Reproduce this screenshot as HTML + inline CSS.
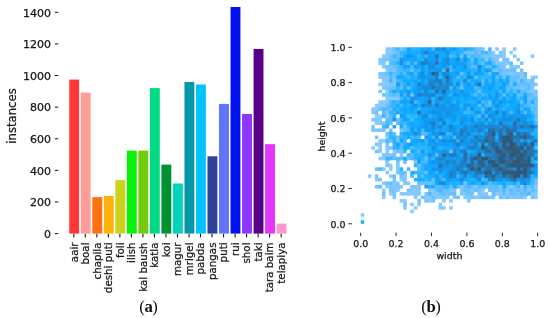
<!DOCTYPE html>
<html><head><meta charset="utf-8"><title>Figure</title>
<style>
html,body{margin:0;padding:0;background:#fff;}
svg{display:block}
text{font-family:"DejaVu Sans","Liberation Sans",sans-serif;fill:#161616;stroke:#161616;stroke-width:0.25px}
.s11{font-size:11.0px}
.s10{font-size:10.25px}
.s9{font-size:9.45px}
.cap{font-family:"Liberation Serif","DejaVu Serif",serif;font-size:16.7px;letter-spacing:-0.45px;fill:#111;stroke:none}
</style></head><body>
<svg width="550" height="318" viewBox="0 0 550 318">
<rect width="550" height="318" fill="#fff"/>
<rect x="69.25" y="79.60" width="9.90" height="154.00" fill="#FF3537"/>
<rect x="80.77" y="92.60" width="9.90" height="141.00" fill="#FF9E98"/>
<rect x="92.29" y="197.10" width="9.90" height="36.50" fill="#FF7012"/>
<rect x="103.81" y="196.00" width="9.90" height="37.60" fill="#FFB109"/>
<rect x="115.33" y="180.10" width="9.90" height="53.50" fill="#CAD31A"/>
<rect x="126.85" y="150.60" width="9.90" height="83.00" fill="#08F208"/>
<rect x="138.37" y="150.60" width="9.90" height="83.00" fill="#74CB0C"/>
<rect x="149.89" y="88.10" width="9.90" height="145.50" fill="#00DA84"/>
<rect x="161.41" y="164.60" width="9.90" height="69.00" fill="#009230"/>
<rect x="172.93" y="183.50" width="9.90" height="50.10" fill="#00D3BC"/>
<rect x="184.45" y="82.00" width="9.90" height="151.60" fill="#0698A8"/>
<rect x="195.97" y="84.50" width="9.90" height="149.10" fill="#00C4FF"/>
<rect x="207.49" y="156.30" width="9.90" height="77.30" fill="#2E4497"/>
<rect x="219.01" y="103.90" width="9.90" height="129.70" fill="#5E74FF"/>
<rect x="230.53" y="7.00" width="9.90" height="226.60" fill="#0012EE"/>
<rect x="242.05" y="114.00" width="9.90" height="119.60" fill="#8E36FF"/>
<rect x="253.57" y="49.00" width="9.90" height="184.60" fill="#580088"/>
<rect x="265.09" y="144.20" width="9.90" height="89.40" fill="#E236FA"/>
<rect x="276.61" y="223.60" width="9.90" height="10.00" fill="#FF96CE"/>
<rect x="73.25" y="233.90" width="1.1" height="3.5" fill="#161616"/>
<text class="s10" text-anchor="end" transform="translate(77.50,242.5) rotate(-90)">aair</text>
<rect x="84.77" y="233.90" width="1.1" height="3.5" fill="#161616"/>
<text class="s10" text-anchor="end" transform="translate(89.02,242.5) rotate(-90)">boal</text>
<rect x="96.29" y="233.90" width="1.1" height="3.5" fill="#161616"/>
<text class="s10" text-anchor="end" transform="translate(100.54,242.5) rotate(-90)">chapila</text>
<rect x="107.81" y="233.90" width="1.1" height="3.5" fill="#161616"/>
<text class="s10" text-anchor="end" transform="translate(112.06,242.5) rotate(-90)">deshi puti</text>
<rect x="119.33" y="233.90" width="1.1" height="3.5" fill="#161616"/>
<text class="s10" text-anchor="end" transform="translate(123.58,242.5) rotate(-90)">foli</text>
<rect x="130.85" y="233.90" width="1.1" height="3.5" fill="#161616"/>
<text class="s10" text-anchor="end" transform="translate(135.10,242.5) rotate(-90)">ilish</text>
<rect x="142.37" y="233.90" width="1.1" height="3.5" fill="#161616"/>
<text class="s10" text-anchor="end" transform="translate(146.62,242.5) rotate(-90)">kal baush</text>
<rect x="153.89" y="233.90" width="1.1" height="3.5" fill="#161616"/>
<text class="s10" text-anchor="end" transform="translate(158.14,242.5) rotate(-90)">katla</text>
<rect x="165.41" y="233.90" width="1.1" height="3.5" fill="#161616"/>
<text class="s10" text-anchor="end" transform="translate(169.66,242.5) rotate(-90)">koi</text>
<rect x="176.93" y="233.90" width="1.1" height="3.5" fill="#161616"/>
<text class="s10" text-anchor="end" transform="translate(181.18,242.5) rotate(-90)">magur</text>
<rect x="188.45" y="233.90" width="1.1" height="3.5" fill="#161616"/>
<text class="s10" text-anchor="end" transform="translate(192.70,242.5) rotate(-90)">mrigel</text>
<rect x="199.97" y="233.90" width="1.1" height="3.5" fill="#161616"/>
<text class="s10" text-anchor="end" transform="translate(204.22,242.5) rotate(-90)">pabda</text>
<rect x="211.49" y="233.90" width="1.1" height="3.5" fill="#161616"/>
<text class="s10" text-anchor="end" transform="translate(215.74,242.5) rotate(-90)">pangas</text>
<rect x="223.01" y="233.90" width="1.1" height="3.5" fill="#161616"/>
<text class="s10" text-anchor="end" transform="translate(227.26,242.5) rotate(-90)">puti</text>
<rect x="234.53" y="233.90" width="1.1" height="3.5" fill="#161616"/>
<text class="s10" text-anchor="end" transform="translate(238.78,242.5) rotate(-90)">rui</text>
<rect x="246.05" y="233.90" width="1.1" height="3.5" fill="#161616"/>
<text class="s10" text-anchor="end" transform="translate(250.30,242.5) rotate(-90)">shol</text>
<rect x="257.57" y="233.90" width="1.1" height="3.5" fill="#161616"/>
<text class="s10" text-anchor="end" transform="translate(261.82,242.5) rotate(-90)">taki</text>
<rect x="269.09" y="233.90" width="1.1" height="3.5" fill="#161616"/>
<text class="s10" text-anchor="end" transform="translate(273.34,242.5) rotate(-90)">tara baim</text>
<rect x="280.61" y="233.90" width="1.1" height="3.5" fill="#161616"/>
<text class="s10" text-anchor="end" transform="translate(284.86,242.5) rotate(-90)">telapiya</text>
<rect x="54.8" y="233.10" width="3.5" height="1" fill="#161616"/>
<text class="s11" text-anchor="end" x="50.9" y="237.90">0</text>
<rect x="54.8" y="201.49" width="3.5" height="1" fill="#161616"/>
<text class="s11" text-anchor="end" x="50.9" y="206.29">200</text>
<rect x="54.8" y="169.87" width="3.5" height="1" fill="#161616"/>
<text class="s11" text-anchor="end" x="50.9" y="174.67">400</text>
<rect x="54.8" y="138.26" width="3.5" height="1" fill="#161616"/>
<text class="s11" text-anchor="end" x="50.9" y="143.06">600</text>
<rect x="54.8" y="106.64" width="3.5" height="1" fill="#161616"/>
<text class="s11" text-anchor="end" x="50.9" y="111.44">800</text>
<rect x="54.8" y="75.03" width="3.5" height="1" fill="#161616"/>
<text class="s11" text-anchor="end" x="50.9" y="79.83">1000</text>
<rect x="54.8" y="43.41" width="3.5" height="1" fill="#161616"/>
<text class="s11" text-anchor="end" x="50.9" y="48.21">1200</text>
<rect x="54.8" y="11.80" width="3.5" height="1" fill="#161616"/>
<text class="s11" text-anchor="end" x="50.9" y="16.60">1400</text>
<text class="s11" style="font-size:11.65px" text-anchor="middle" transform="translate(15.7,116.0) rotate(-90)">instances</text>
<text class="cap" text-anchor="middle" x="148.4" y="311.6">(<tspan font-weight="bold">a</tspan>)</text>
<rect x="385.48" y="47.30" width="4.34" height="4.33" fill="#87CAFE"/>
<rect x="389.02" y="47.30" width="4.34" height="4.33" fill="#87CAFE"/>
<rect x="392.56" y="47.30" width="4.34" height="4.33" fill="#64BFFF"/>
<rect x="396.10" y="47.30" width="4.34" height="4.33" fill="#46B8FF"/>
<rect x="399.64" y="47.30" width="4.34" height="4.33" fill="#77C4FF"/>
<rect x="403.18" y="47.30" width="4.34" height="4.33" fill="#56BBFF"/>
<rect x="406.72" y="47.30" width="4.34" height="4.33" fill="#0F9FFB"/>
<rect x="410.26" y="47.30" width="4.34" height="4.33" fill="#29B3FF"/>
<rect x="413.80" y="47.30" width="4.34" height="4.33" fill="#29B3FF"/>
<rect x="417.34" y="47.30" width="4.34" height="4.33" fill="#15B1FF"/>
<rect x="420.88" y="47.30" width="4.34" height="4.33" fill="#0EA4FF"/>
<rect x="424.42" y="47.30" width="4.34" height="4.33" fill="#11ACFF"/>
<rect x="427.96" y="47.30" width="4.34" height="4.33" fill="#0EA4FF"/>
<rect x="431.50" y="47.30" width="4.34" height="4.33" fill="#46B8FF"/>
<rect x="435.04" y="47.30" width="4.34" height="4.33" fill="#1592E4"/>
<rect x="438.58" y="47.30" width="4.34" height="4.33" fill="#1298ED"/>
<rect x="442.12" y="47.30" width="4.34" height="4.33" fill="#1E85CC"/>
<rect x="445.66" y="47.30" width="4.34" height="4.33" fill="#11ACFF"/>
<rect x="449.20" y="47.30" width="4.34" height="4.33" fill="#0EA4FF"/>
<rect x="452.74" y="47.30" width="4.34" height="4.33" fill="#109AF2"/>
<rect x="456.28" y="47.30" width="4.34" height="4.33" fill="#15B1FF"/>
<rect x="459.82" y="47.30" width="4.34" height="4.33" fill="#33B5FF"/>
<rect x="463.36" y="47.30" width="4.34" height="4.33" fill="#11A8FF"/>
<rect x="466.90" y="47.30" width="4.34" height="4.33" fill="#29B3FF"/>
<rect x="470.44" y="47.30" width="4.34" height="4.33" fill="#29B3FF"/>
<rect x="473.98" y="47.30" width="4.34" height="4.33" fill="#64BFFF"/>
<rect x="477.52" y="47.30" width="4.34" height="4.33" fill="#6BC1FF"/>
<rect x="481.06" y="47.30" width="3.54" height="4.33" fill="#6BC1FF"/>
<rect x="488.14" y="47.30" width="3.54" height="4.33" fill="#4EB9FF"/>
<rect x="495.22" y="47.30" width="3.54" height="3.53" fill="#87CAFE"/>
<rect x="502.30" y="47.30" width="3.54" height="4.33" fill="#87CAFE"/>
<rect x="512.92" y="47.30" width="3.54" height="3.53" fill="#87CAFE"/>
<rect x="385.48" y="50.83" width="4.34" height="4.33" fill="#87CAFE"/>
<rect x="389.02" y="50.83" width="4.34" height="4.33" fill="#87CAFE"/>
<rect x="392.56" y="50.83" width="4.34" height="4.33" fill="#7CC6FF"/>
<rect x="396.10" y="50.83" width="4.34" height="4.33" fill="#6BC1FF"/>
<rect x="399.64" y="50.83" width="4.34" height="4.33" fill="#33B5FF"/>
<rect x="403.18" y="50.83" width="4.34" height="4.33" fill="#29B3FF"/>
<rect x="406.72" y="50.83" width="4.34" height="4.33" fill="#11ACFF"/>
<rect x="410.26" y="50.83" width="4.34" height="4.33" fill="#15B1FF"/>
<rect x="413.80" y="50.83" width="4.34" height="4.33" fill="#11ACFF"/>
<rect x="417.34" y="50.83" width="4.34" height="4.33" fill="#15B1FF"/>
<rect x="420.88" y="50.83" width="4.34" height="4.33" fill="#1298ED"/>
<rect x="424.42" y="50.83" width="4.34" height="4.33" fill="#217FC1"/>
<rect x="427.96" y="50.83" width="4.34" height="4.33" fill="#109AF2"/>
<rect x="431.50" y="50.83" width="4.34" height="4.33" fill="#0F9FFB"/>
<rect x="435.04" y="50.83" width="4.34" height="4.33" fill="#11A8FF"/>
<rect x="438.58" y="50.83" width="4.34" height="4.33" fill="#11A8FF"/>
<rect x="442.12" y="50.83" width="4.34" height="4.33" fill="#11A8FF"/>
<rect x="445.66" y="50.83" width="4.34" height="4.33" fill="#1592E4"/>
<rect x="449.20" y="50.83" width="4.34" height="4.33" fill="#15B1FF"/>
<rect x="452.74" y="50.83" width="4.34" height="4.33" fill="#29B3FF"/>
<rect x="456.28" y="50.83" width="4.34" height="4.33" fill="#15B1FF"/>
<rect x="459.82" y="50.83" width="4.34" height="4.33" fill="#29B3FF"/>
<rect x="463.36" y="50.83" width="4.34" height="4.33" fill="#6BC1FF"/>
<rect x="466.90" y="50.83" width="4.34" height="4.33" fill="#6BC1FF"/>
<rect x="470.44" y="50.83" width="4.34" height="4.33" fill="#77C4FF"/>
<rect x="473.98" y="50.83" width="4.34" height="4.33" fill="#56BBFF"/>
<rect x="477.52" y="50.83" width="4.34" height="4.33" fill="#77C4FF"/>
<rect x="481.06" y="50.83" width="4.34" height="4.33" fill="#46B8FF"/>
<rect x="484.60" y="50.83" width="4.34" height="4.33" fill="#46B8FF"/>
<rect x="488.14" y="50.83" width="4.34" height="4.33" fill="#71C3FF"/>
<rect x="491.68" y="50.83" width="3.54" height="4.33" fill="#87CAFE"/>
<rect x="498.76" y="50.83" width="4.34" height="4.33" fill="#7CC6FF"/>
<rect x="502.30" y="50.83" width="3.54" height="4.33" fill="#87CAFE"/>
<rect x="509.38" y="50.83" width="3.54" height="3.53" fill="#87CAFE"/>
<rect x="381.94" y="54.36" width="4.34" height="4.33" fill="#87CAFE"/>
<rect x="385.48" y="54.36" width="4.34" height="4.33" fill="#87CAFE"/>
<rect x="389.02" y="54.36" width="4.34" height="4.33" fill="#71C3FF"/>
<rect x="392.56" y="54.36" width="4.34" height="4.33" fill="#33B5FF"/>
<rect x="396.10" y="54.36" width="4.34" height="4.33" fill="#64BFFF"/>
<rect x="399.64" y="54.36" width="4.34" height="4.33" fill="#46B8FF"/>
<rect x="403.18" y="54.36" width="4.34" height="4.33" fill="#11A8FF"/>
<rect x="406.72" y="54.36" width="4.34" height="4.33" fill="#1592E4"/>
<rect x="410.26" y="54.36" width="4.34" height="4.33" fill="#1298ED"/>
<rect x="413.80" y="54.36" width="4.34" height="4.33" fill="#11ACFF"/>
<rect x="417.34" y="54.36" width="4.34" height="4.33" fill="#33B5FF"/>
<rect x="420.88" y="54.36" width="4.34" height="4.33" fill="#11A8FF"/>
<rect x="424.42" y="54.36" width="4.34" height="4.33" fill="#33B5FF"/>
<rect x="427.96" y="54.36" width="4.34" height="4.33" fill="#0F9FFB"/>
<rect x="431.50" y="54.36" width="4.34" height="4.33" fill="#0F9FFB"/>
<rect x="435.04" y="54.36" width="4.34" height="4.33" fill="#2677B3"/>
<rect x="438.58" y="54.36" width="4.34" height="4.33" fill="#11ACFF"/>
<rect x="442.12" y="54.36" width="4.34" height="4.33" fill="#11ACFF"/>
<rect x="445.66" y="54.36" width="4.34" height="4.33" fill="#109AF2"/>
<rect x="449.20" y="54.36" width="4.34" height="4.33" fill="#56BBFF"/>
<rect x="452.74" y="54.36" width="4.34" height="4.33" fill="#33B5FF"/>
<rect x="456.28" y="54.36" width="4.34" height="4.33" fill="#11ACFF"/>
<rect x="459.82" y="54.36" width="4.34" height="4.33" fill="#6BC1FF"/>
<rect x="463.36" y="54.36" width="4.34" height="4.33" fill="#0EA4FF"/>
<rect x="466.90" y="54.36" width="4.34" height="4.33" fill="#64BFFF"/>
<rect x="470.44" y="54.36" width="4.34" height="4.33" fill="#46B8FF"/>
<rect x="473.98" y="54.36" width="4.34" height="4.33" fill="#56BBFF"/>
<rect x="477.52" y="54.36" width="4.34" height="4.33" fill="#56BBFF"/>
<rect x="481.06" y="54.36" width="4.34" height="4.33" fill="#77C4FF"/>
<rect x="484.60" y="54.36" width="4.34" height="4.33" fill="#77C4FF"/>
<rect x="488.14" y="54.36" width="4.34" height="4.33" fill="#77C4FF"/>
<rect x="491.68" y="54.36" width="4.34" height="4.33" fill="#87CAFE"/>
<rect x="495.22" y="54.36" width="4.34" height="4.33" fill="#7CC6FF"/>
<rect x="498.76" y="54.36" width="4.34" height="3.53" fill="#7CC6FF"/>
<rect x="502.30" y="54.36" width="3.54" height="4.33" fill="#87CAFE"/>
<rect x="512.92" y="54.36" width="3.54" height="3.53" fill="#87CAFE"/>
<rect x="530.62" y="54.36" width="3.54" height="3.53" fill="#87CAFE"/>
<rect x="378.40" y="57.89" width="4.34" height="4.33" fill="#87CAFE"/>
<rect x="381.94" y="57.89" width="4.34" height="4.33" fill="#7CC6FF"/>
<rect x="385.48" y="57.89" width="4.34" height="3.53" fill="#7CC6FF"/>
<rect x="389.02" y="57.89" width="4.34" height="4.33" fill="#64BFFF"/>
<rect x="392.56" y="57.89" width="4.34" height="4.33" fill="#64BFFF"/>
<rect x="396.10" y="57.89" width="4.34" height="4.33" fill="#56BBFF"/>
<rect x="399.64" y="57.89" width="4.34" height="4.33" fill="#109AF2"/>
<rect x="403.18" y="57.89" width="4.34" height="4.33" fill="#0EA4FF"/>
<rect x="406.72" y="57.89" width="4.34" height="4.33" fill="#11A8FF"/>
<rect x="410.26" y="57.89" width="4.34" height="4.33" fill="#11ACFF"/>
<rect x="413.80" y="57.89" width="4.34" height="4.33" fill="#0F9FFB"/>
<rect x="417.34" y="57.89" width="4.34" height="4.33" fill="#15B1FF"/>
<rect x="420.88" y="57.89" width="4.34" height="4.33" fill="#15B1FF"/>
<rect x="424.42" y="57.89" width="4.34" height="4.33" fill="#1A89D6"/>
<rect x="427.96" y="57.89" width="4.34" height="4.33" fill="#0F9FFB"/>
<rect x="431.50" y="57.89" width="4.34" height="4.33" fill="#0F9FFB"/>
<rect x="435.04" y="57.89" width="4.34" height="4.33" fill="#1A89D6"/>
<rect x="438.58" y="57.89" width="4.34" height="4.33" fill="#11ACFF"/>
<rect x="442.12" y="57.89" width="4.34" height="4.33" fill="#109AF2"/>
<rect x="445.66" y="57.89" width="4.34" height="4.33" fill="#188CDA"/>
<rect x="449.20" y="57.89" width="4.34" height="4.33" fill="#11A8FF"/>
<rect x="452.74" y="57.89" width="4.34" height="4.33" fill="#0EA4FF"/>
<rect x="456.28" y="57.89" width="4.34" height="4.33" fill="#1A89D6"/>
<rect x="459.82" y="57.89" width="4.34" height="4.33" fill="#29B3FF"/>
<rect x="463.36" y="57.89" width="4.34" height="4.33" fill="#1592E4"/>
<rect x="466.90" y="57.89" width="4.34" height="4.33" fill="#15B1FF"/>
<rect x="470.44" y="57.89" width="4.34" height="4.33" fill="#64BFFF"/>
<rect x="473.98" y="57.89" width="4.34" height="4.33" fill="#11ACFF"/>
<rect x="477.52" y="57.89" width="4.34" height="4.33" fill="#46B8FF"/>
<rect x="481.06" y="57.89" width="4.34" height="4.33" fill="#33B5FF"/>
<rect x="484.60" y="57.89" width="4.34" height="4.33" fill="#82C8FF"/>
<rect x="488.14" y="57.89" width="4.34" height="4.33" fill="#46B8FF"/>
<rect x="491.68" y="57.89" width="4.34" height="4.33" fill="#77C4FF"/>
<rect x="495.22" y="57.89" width="3.54" height="4.33" fill="#82C8FF"/>
<rect x="502.30" y="57.89" width="4.34" height="4.33" fill="#7CC6FF"/>
<rect x="505.84" y="57.89" width="3.54" height="4.33" fill="#71C3FF"/>
<rect x="516.46" y="57.89" width="3.54" height="3.53" fill="#87CAFE"/>
<rect x="378.40" y="61.42" width="4.34" height="3.53" fill="#87CAFE"/>
<rect x="381.94" y="61.42" width="3.54" height="4.33" fill="#7CC6FF"/>
<rect x="389.02" y="61.42" width="4.34" height="4.33" fill="#56BBFF"/>
<rect x="392.56" y="61.42" width="4.34" height="4.33" fill="#46B8FF"/>
<rect x="396.10" y="61.42" width="4.34" height="4.33" fill="#29B3FF"/>
<rect x="399.64" y="61.42" width="4.34" height="4.33" fill="#1A89D6"/>
<rect x="403.18" y="61.42" width="4.34" height="4.33" fill="#29B3FF"/>
<rect x="406.72" y="61.42" width="4.34" height="4.33" fill="#56BBFF"/>
<rect x="410.26" y="61.42" width="4.34" height="4.33" fill="#0EA4FF"/>
<rect x="413.80" y="61.42" width="4.34" height="4.33" fill="#56BBFF"/>
<rect x="417.34" y="61.42" width="4.34" height="4.33" fill="#109AF2"/>
<rect x="420.88" y="61.42" width="4.34" height="4.33" fill="#217FC1"/>
<rect x="424.42" y="61.42" width="4.34" height="4.33" fill="#1E85CC"/>
<rect x="427.96" y="61.42" width="4.34" height="4.33" fill="#1592E4"/>
<rect x="431.50" y="61.42" width="4.34" height="4.33" fill="#109AF2"/>
<rect x="435.04" y="61.42" width="4.34" height="4.33" fill="#2972A8"/>
<rect x="438.58" y="61.42" width="4.34" height="4.33" fill="#0EA4FF"/>
<rect x="442.12" y="61.42" width="4.34" height="4.33" fill="#109AF2"/>
<rect x="445.66" y="61.42" width="4.34" height="4.33" fill="#188CDA"/>
<rect x="449.20" y="61.42" width="4.34" height="4.33" fill="#0EA4FF"/>
<rect x="452.74" y="61.42" width="4.34" height="4.33" fill="#11A8FF"/>
<rect x="456.28" y="61.42" width="4.34" height="4.33" fill="#0F9FFB"/>
<rect x="459.82" y="61.42" width="4.34" height="4.33" fill="#0F9FFB"/>
<rect x="463.36" y="61.42" width="4.34" height="4.33" fill="#11A8FF"/>
<rect x="466.90" y="61.42" width="4.34" height="4.33" fill="#29B3FF"/>
<rect x="470.44" y="61.42" width="4.34" height="4.33" fill="#46B8FF"/>
<rect x="473.98" y="61.42" width="4.34" height="4.33" fill="#11A8FF"/>
<rect x="477.52" y="61.42" width="4.34" height="4.33" fill="#46B8FF"/>
<rect x="481.06" y="61.42" width="4.34" height="4.33" fill="#6BC1FF"/>
<rect x="484.60" y="61.42" width="4.34" height="4.33" fill="#15B1FF"/>
<rect x="488.14" y="61.42" width="4.34" height="4.33" fill="#11ACFF"/>
<rect x="491.68" y="61.42" width="4.34" height="4.33" fill="#56BBFF"/>
<rect x="495.22" y="61.42" width="4.34" height="4.33" fill="#82C8FF"/>
<rect x="498.76" y="61.42" width="4.34" height="4.33" fill="#82C8FF"/>
<rect x="502.30" y="61.42" width="4.34" height="4.33" fill="#7CC6FF"/>
<rect x="505.84" y="61.42" width="4.34" height="3.53" fill="#87CAFE"/>
<rect x="509.38" y="61.42" width="3.54" height="4.33" fill="#64BFFF"/>
<rect x="520.00" y="61.42" width="3.54" height="3.53" fill="#7CC6FF"/>
<rect x="381.94" y="64.95" width="4.34" height="3.53" fill="#87CAFE"/>
<rect x="385.48" y="64.95" width="4.34" height="4.33" fill="#71C3FF"/>
<rect x="389.02" y="64.95" width="4.34" height="4.33" fill="#71C3FF"/>
<rect x="392.56" y="64.95" width="4.34" height="4.33" fill="#64BFFF"/>
<rect x="396.10" y="64.95" width="4.34" height="4.33" fill="#56BBFF"/>
<rect x="399.64" y="64.95" width="4.34" height="4.33" fill="#29B3FF"/>
<rect x="403.18" y="64.95" width="4.34" height="4.33" fill="#0F9FFB"/>
<rect x="406.72" y="64.95" width="4.34" height="4.33" fill="#11A8FF"/>
<rect x="410.26" y="64.95" width="4.34" height="4.33" fill="#46B8FF"/>
<rect x="413.80" y="64.95" width="4.34" height="4.33" fill="#109AF2"/>
<rect x="417.34" y="64.95" width="4.34" height="4.33" fill="#11A8FF"/>
<rect x="420.88" y="64.95" width="4.34" height="4.33" fill="#109AF2"/>
<rect x="424.42" y="64.95" width="4.34" height="4.33" fill="#15B1FF"/>
<rect x="427.96" y="64.95" width="4.34" height="4.33" fill="#188CDA"/>
<rect x="431.50" y="64.95" width="4.34" height="4.33" fill="#1A89D6"/>
<rect x="435.04" y="64.95" width="4.34" height="4.33" fill="#11ACFF"/>
<rect x="438.58" y="64.95" width="4.34" height="4.33" fill="#0EA4FF"/>
<rect x="442.12" y="64.95" width="4.34" height="4.33" fill="#1298ED"/>
<rect x="445.66" y="64.95" width="4.34" height="4.33" fill="#11A8FF"/>
<rect x="449.20" y="64.95" width="4.34" height="4.33" fill="#33B5FF"/>
<rect x="452.74" y="64.95" width="4.34" height="4.33" fill="#1298ED"/>
<rect x="456.28" y="64.95" width="4.34" height="4.33" fill="#15B1FF"/>
<rect x="459.82" y="64.95" width="4.34" height="4.33" fill="#11A8FF"/>
<rect x="463.36" y="64.95" width="4.34" height="4.33" fill="#188CDA"/>
<rect x="466.90" y="64.95" width="4.34" height="4.33" fill="#29B3FF"/>
<rect x="470.44" y="64.95" width="4.34" height="4.33" fill="#56BBFF"/>
<rect x="473.98" y="64.95" width="4.34" height="4.33" fill="#56BBFF"/>
<rect x="477.52" y="64.95" width="4.34" height="4.33" fill="#188CDA"/>
<rect x="481.06" y="64.95" width="4.34" height="4.33" fill="#15B1FF"/>
<rect x="484.60" y="64.95" width="4.34" height="4.33" fill="#56BBFF"/>
<rect x="488.14" y="64.95" width="4.34" height="4.33" fill="#64BFFF"/>
<rect x="491.68" y="64.95" width="4.34" height="4.33" fill="#15B1FF"/>
<rect x="495.22" y="64.95" width="4.34" height="4.33" fill="#46B8FF"/>
<rect x="498.76" y="64.95" width="4.34" height="4.33" fill="#77C4FF"/>
<rect x="502.30" y="64.95" width="3.54" height="4.33" fill="#77C4FF"/>
<rect x="509.38" y="64.95" width="4.34" height="4.33" fill="#7CC6FF"/>
<rect x="512.92" y="64.95" width="4.34" height="4.33" fill="#87CAFE"/>
<rect x="516.46" y="64.95" width="3.54" height="3.53" fill="#7CC6FF"/>
<rect x="385.48" y="68.48" width="4.34" height="4.33" fill="#87CAFE"/>
<rect x="389.02" y="68.48" width="4.34" height="4.33" fill="#71C3FF"/>
<rect x="392.56" y="68.48" width="4.34" height="4.33" fill="#7CC6FF"/>
<rect x="396.10" y="68.48" width="4.34" height="4.33" fill="#56BBFF"/>
<rect x="399.64" y="68.48" width="4.34" height="4.33" fill="#46B8FF"/>
<rect x="403.18" y="68.48" width="4.34" height="4.33" fill="#33B5FF"/>
<rect x="406.72" y="68.48" width="4.34" height="4.33" fill="#33B5FF"/>
<rect x="410.26" y="68.48" width="4.34" height="4.33" fill="#64BFFF"/>
<rect x="413.80" y="68.48" width="4.34" height="4.33" fill="#29B3FF"/>
<rect x="417.34" y="68.48" width="4.34" height="4.33" fill="#33B5FF"/>
<rect x="420.88" y="68.48" width="4.34" height="4.33" fill="#0F9FFB"/>
<rect x="424.42" y="68.48" width="4.34" height="4.33" fill="#11ACFF"/>
<rect x="427.96" y="68.48" width="4.34" height="4.33" fill="#1298ED"/>
<rect x="431.50" y="68.48" width="4.34" height="4.33" fill="#0F9FFB"/>
<rect x="435.04" y="68.48" width="4.34" height="4.33" fill="#1592E4"/>
<rect x="438.58" y="68.48" width="4.34" height="4.33" fill="#109AF2"/>
<rect x="442.12" y="68.48" width="4.34" height="4.33" fill="#46B8FF"/>
<rect x="445.66" y="68.48" width="4.34" height="4.33" fill="#2A70A4"/>
<rect x="449.20" y="68.48" width="4.34" height="4.33" fill="#46B8FF"/>
<rect x="452.74" y="68.48" width="4.34" height="4.33" fill="#11ACFF"/>
<rect x="456.28" y="68.48" width="4.34" height="4.33" fill="#11ACFF"/>
<rect x="459.82" y="68.48" width="4.34" height="4.33" fill="#11A8FF"/>
<rect x="463.36" y="68.48" width="4.34" height="4.33" fill="#11ACFF"/>
<rect x="466.90" y="68.48" width="4.34" height="4.33" fill="#11ACFF"/>
<rect x="470.44" y="68.48" width="4.34" height="4.33" fill="#29B3FF"/>
<rect x="473.98" y="68.48" width="4.34" height="4.33" fill="#29B3FF"/>
<rect x="477.52" y="68.48" width="4.34" height="4.33" fill="#1298ED"/>
<rect x="481.06" y="68.48" width="4.34" height="4.33" fill="#29B3FF"/>
<rect x="484.60" y="68.48" width="4.34" height="4.33" fill="#0F9FFB"/>
<rect x="488.14" y="68.48" width="4.34" height="4.33" fill="#11A8FF"/>
<rect x="491.68" y="68.48" width="4.34" height="4.33" fill="#64BFFF"/>
<rect x="495.22" y="68.48" width="4.34" height="4.33" fill="#77C4FF"/>
<rect x="498.76" y="68.48" width="4.34" height="4.33" fill="#56BBFF"/>
<rect x="502.30" y="68.48" width="4.34" height="4.33" fill="#77C4FF"/>
<rect x="505.84" y="68.48" width="4.34" height="4.33" fill="#6BC1FF"/>
<rect x="509.38" y="68.48" width="4.34" height="4.33" fill="#71C3FF"/>
<rect x="512.92" y="68.48" width="3.54" height="4.33" fill="#64BFFF"/>
<rect x="520.00" y="68.48" width="3.54" height="4.33" fill="#7CC6FF"/>
<rect x="378.40" y="72.01" width="4.34" height="4.33" fill="#7CC6FF"/>
<rect x="381.94" y="72.01" width="4.34" height="4.33" fill="#7CC6FF"/>
<rect x="385.48" y="72.01" width="4.34" height="4.33" fill="#64BFFF"/>
<rect x="389.02" y="72.01" width="4.34" height="4.33" fill="#33B5FF"/>
<rect x="392.56" y="72.01" width="4.34" height="4.33" fill="#64BFFF"/>
<rect x="396.10" y="72.01" width="4.34" height="4.33" fill="#56BBFF"/>
<rect x="399.64" y="72.01" width="4.34" height="4.33" fill="#29B3FF"/>
<rect x="403.18" y="72.01" width="4.34" height="4.33" fill="#56BBFF"/>
<rect x="406.72" y="72.01" width="4.34" height="4.33" fill="#11A8FF"/>
<rect x="410.26" y="72.01" width="4.34" height="4.33" fill="#11A8FF"/>
<rect x="413.80" y="72.01" width="4.34" height="4.33" fill="#46B8FF"/>
<rect x="417.34" y="72.01" width="4.34" height="4.33" fill="#0F9FFB"/>
<rect x="420.88" y="72.01" width="4.34" height="4.33" fill="#188CDA"/>
<rect x="424.42" y="72.01" width="4.34" height="4.33" fill="#15B1FF"/>
<rect x="427.96" y="72.01" width="4.34" height="4.33" fill="#1298ED"/>
<rect x="431.50" y="72.01" width="4.34" height="4.33" fill="#2F6185"/>
<rect x="435.04" y="72.01" width="4.34" height="4.33" fill="#2A70A4"/>
<rect x="438.58" y="72.01" width="4.34" height="4.33" fill="#11ACFF"/>
<rect x="442.12" y="72.01" width="4.34" height="4.33" fill="#1E85CC"/>
<rect x="445.66" y="72.01" width="4.34" height="4.33" fill="#1592E4"/>
<rect x="449.20" y="72.01" width="4.34" height="4.33" fill="#11A8FF"/>
<rect x="452.74" y="72.01" width="4.34" height="4.33" fill="#0EA4FF"/>
<rect x="456.28" y="72.01" width="4.34" height="4.33" fill="#0F9FFB"/>
<rect x="459.82" y="72.01" width="4.34" height="4.33" fill="#64BFFF"/>
<rect x="463.36" y="72.01" width="4.34" height="4.33" fill="#29B3FF"/>
<rect x="466.90" y="72.01" width="4.34" height="4.33" fill="#0F9FFB"/>
<rect x="470.44" y="72.01" width="4.34" height="4.33" fill="#33B5FF"/>
<rect x="473.98" y="72.01" width="4.34" height="4.33" fill="#0F9FFB"/>
<rect x="477.52" y="72.01" width="4.34" height="4.33" fill="#0EA4FF"/>
<rect x="481.06" y="72.01" width="4.34" height="4.33" fill="#11ACFF"/>
<rect x="484.60" y="72.01" width="4.34" height="4.33" fill="#33B5FF"/>
<rect x="488.14" y="72.01" width="4.34" height="4.33" fill="#64BFFF"/>
<rect x="491.68" y="72.01" width="4.34" height="4.33" fill="#11A8FF"/>
<rect x="495.22" y="72.01" width="4.34" height="4.33" fill="#11A8FF"/>
<rect x="498.76" y="72.01" width="4.34" height="4.33" fill="#64BFFF"/>
<rect x="502.30" y="72.01" width="4.34" height="4.33" fill="#77C4FF"/>
<rect x="505.84" y="72.01" width="4.34" height="4.33" fill="#77C4FF"/>
<rect x="509.38" y="72.01" width="4.34" height="4.33" fill="#87CAFE"/>
<rect x="512.92" y="72.01" width="4.34" height="4.33" fill="#71C3FF"/>
<rect x="516.46" y="72.01" width="4.34" height="4.33" fill="#71C3FF"/>
<rect x="520.00" y="72.01" width="4.34" height="4.33" fill="#87CAFE"/>
<rect x="523.54" y="72.01" width="3.54" height="4.33" fill="#64BFFF"/>
<rect x="378.40" y="75.54" width="4.34" height="3.53" fill="#87CAFE"/>
<rect x="381.94" y="75.54" width="4.34" height="4.33" fill="#7CC6FF"/>
<rect x="385.48" y="75.54" width="4.34" height="4.33" fill="#87CAFE"/>
<rect x="389.02" y="75.54" width="4.34" height="4.33" fill="#56BBFF"/>
<rect x="392.56" y="75.54" width="4.34" height="4.33" fill="#77C4FF"/>
<rect x="396.10" y="75.54" width="4.34" height="4.33" fill="#11ACFF"/>
<rect x="399.64" y="75.54" width="4.34" height="4.33" fill="#11A8FF"/>
<rect x="403.18" y="75.54" width="4.34" height="4.33" fill="#15B1FF"/>
<rect x="406.72" y="75.54" width="4.34" height="4.33" fill="#46B8FF"/>
<rect x="410.26" y="75.54" width="4.34" height="4.33" fill="#15B1FF"/>
<rect x="413.80" y="75.54" width="4.34" height="4.33" fill="#29B3FF"/>
<rect x="417.34" y="75.54" width="4.34" height="4.33" fill="#1298ED"/>
<rect x="420.88" y="75.54" width="4.34" height="4.33" fill="#1592E4"/>
<rect x="424.42" y="75.54" width="4.34" height="4.33" fill="#109AF2"/>
<rect x="427.96" y="75.54" width="4.34" height="4.33" fill="#109AF2"/>
<rect x="431.50" y="75.54" width="4.34" height="4.33" fill="#0F9FFB"/>
<rect x="435.04" y="75.54" width="4.34" height="4.33" fill="#217FC1"/>
<rect x="438.58" y="75.54" width="4.34" height="4.33" fill="#33B5FF"/>
<rect x="442.12" y="75.54" width="4.34" height="4.33" fill="#1298ED"/>
<rect x="445.66" y="75.54" width="4.34" height="4.33" fill="#2E668F"/>
<rect x="449.20" y="75.54" width="4.34" height="4.33" fill="#1298ED"/>
<rect x="452.74" y="75.54" width="4.34" height="4.33" fill="#11A8FF"/>
<rect x="456.28" y="75.54" width="4.34" height="4.33" fill="#56BBFF"/>
<rect x="459.82" y="75.54" width="4.34" height="4.33" fill="#15B1FF"/>
<rect x="463.36" y="75.54" width="4.34" height="4.33" fill="#29B3FF"/>
<rect x="466.90" y="75.54" width="4.34" height="4.33" fill="#188CDA"/>
<rect x="470.44" y="75.54" width="4.34" height="4.33" fill="#109AF2"/>
<rect x="473.98" y="75.54" width="4.34" height="4.33" fill="#64BFFF"/>
<rect x="477.52" y="75.54" width="4.34" height="4.33" fill="#29B3FF"/>
<rect x="481.06" y="75.54" width="4.34" height="4.33" fill="#33B5FF"/>
<rect x="484.60" y="75.54" width="4.34" height="4.33" fill="#33B5FF"/>
<rect x="488.14" y="75.54" width="4.34" height="4.33" fill="#29B3FF"/>
<rect x="491.68" y="75.54" width="4.34" height="4.33" fill="#0EA4FF"/>
<rect x="495.22" y="75.54" width="4.34" height="4.33" fill="#64BFFF"/>
<rect x="498.76" y="75.54" width="4.34" height="4.33" fill="#29B3FF"/>
<rect x="502.30" y="75.54" width="4.34" height="4.33" fill="#6BC1FF"/>
<rect x="505.84" y="75.54" width="4.34" height="4.33" fill="#15B1FF"/>
<rect x="509.38" y="75.54" width="4.34" height="4.33" fill="#64BFFF"/>
<rect x="512.92" y="75.54" width="4.34" height="4.33" fill="#6BC1FF"/>
<rect x="516.46" y="75.54" width="4.34" height="4.33" fill="#64BFFF"/>
<rect x="520.00" y="75.54" width="4.34" height="4.33" fill="#87CAFE"/>
<rect x="523.54" y="75.54" width="3.54" height="4.33" fill="#71C3FF"/>
<rect x="530.62" y="75.54" width="4.34" height="4.33" fill="#87CAFE"/>
<rect x="534.16" y="75.54" width="3.54" height="3.53" fill="#87CAFE"/>
<rect x="381.94" y="79.07" width="4.34" height="4.33" fill="#87CAFE"/>
<rect x="385.48" y="79.07" width="4.34" height="4.33" fill="#7CC6FF"/>
<rect x="389.02" y="79.07" width="4.34" height="4.33" fill="#3EB6FF"/>
<rect x="392.56" y="79.07" width="4.34" height="4.33" fill="#82C8FF"/>
<rect x="396.10" y="79.07" width="4.34" height="4.33" fill="#46B8FF"/>
<rect x="399.64" y="79.07" width="4.34" height="4.33" fill="#33B5FF"/>
<rect x="403.18" y="79.07" width="4.34" height="4.33" fill="#11ACFF"/>
<rect x="406.72" y="79.07" width="4.34" height="4.33" fill="#11ACFF"/>
<rect x="410.26" y="79.07" width="4.34" height="4.33" fill="#11ACFF"/>
<rect x="413.80" y="79.07" width="4.34" height="4.33" fill="#0EA4FF"/>
<rect x="417.34" y="79.07" width="4.34" height="4.33" fill="#15B1FF"/>
<rect x="420.88" y="79.07" width="4.34" height="4.33" fill="#109AF2"/>
<rect x="424.42" y="79.07" width="4.34" height="4.33" fill="#11ACFF"/>
<rect x="427.96" y="79.07" width="4.34" height="4.33" fill="#1A89D6"/>
<rect x="431.50" y="79.07" width="4.34" height="4.33" fill="#1A89D6"/>
<rect x="435.04" y="79.07" width="4.34" height="4.33" fill="#217FC1"/>
<rect x="438.58" y="79.07" width="4.34" height="4.33" fill="#217FC1"/>
<rect x="442.12" y="79.07" width="4.34" height="4.33" fill="#11A8FF"/>
<rect x="445.66" y="79.07" width="4.34" height="4.33" fill="#227DBD"/>
<rect x="449.20" y="79.07" width="4.34" height="4.33" fill="#109AF2"/>
<rect x="452.74" y="79.07" width="4.34" height="4.33" fill="#33B5FF"/>
<rect x="456.28" y="79.07" width="4.34" height="4.33" fill="#11ACFF"/>
<rect x="459.82" y="79.07" width="4.34" height="4.33" fill="#29B3FF"/>
<rect x="463.36" y="79.07" width="4.34" height="4.33" fill="#1A89D6"/>
<rect x="466.90" y="79.07" width="4.34" height="4.33" fill="#33B5FF"/>
<rect x="470.44" y="79.07" width="4.34" height="4.33" fill="#15B1FF"/>
<rect x="473.98" y="79.07" width="4.34" height="4.33" fill="#11ACFF"/>
<rect x="477.52" y="79.07" width="4.34" height="4.33" fill="#11ACFF"/>
<rect x="481.06" y="79.07" width="4.34" height="4.33" fill="#56BBFF"/>
<rect x="484.60" y="79.07" width="4.34" height="4.33" fill="#11A8FF"/>
<rect x="488.14" y="79.07" width="4.34" height="4.33" fill="#46B8FF"/>
<rect x="491.68" y="79.07" width="4.34" height="4.33" fill="#0EA4FF"/>
<rect x="495.22" y="79.07" width="4.34" height="4.33" fill="#33B5FF"/>
<rect x="498.76" y="79.07" width="4.34" height="4.33" fill="#0EA4FF"/>
<rect x="502.30" y="79.07" width="4.34" height="4.33" fill="#29B3FF"/>
<rect x="505.84" y="79.07" width="4.34" height="4.33" fill="#11A8FF"/>
<rect x="509.38" y="79.07" width="4.34" height="4.33" fill="#6BC1FF"/>
<rect x="512.92" y="79.07" width="4.34" height="4.33" fill="#56BBFF"/>
<rect x="516.46" y="79.07" width="4.34" height="4.33" fill="#82C8FF"/>
<rect x="520.00" y="79.07" width="4.34" height="4.33" fill="#46B8FF"/>
<rect x="523.54" y="79.07" width="4.34" height="4.33" fill="#71C3FF"/>
<rect x="527.08" y="79.07" width="4.34" height="4.33" fill="#87CAFE"/>
<rect x="530.62" y="79.07" width="3.54" height="4.33" fill="#64BFFF"/>
<rect x="378.40" y="82.60" width="4.34" height="3.53" fill="#87CAFE"/>
<rect x="381.94" y="82.60" width="4.34" height="4.33" fill="#87CAFE"/>
<rect x="385.48" y="82.60" width="4.34" height="4.33" fill="#87CAFE"/>
<rect x="389.02" y="82.60" width="4.34" height="4.33" fill="#77C4FF"/>
<rect x="392.56" y="82.60" width="4.34" height="4.33" fill="#82C8FF"/>
<rect x="396.10" y="82.60" width="4.34" height="4.33" fill="#109AF2"/>
<rect x="399.64" y="82.60" width="4.34" height="4.33" fill="#46B8FF"/>
<rect x="403.18" y="82.60" width="4.34" height="4.33" fill="#29B3FF"/>
<rect x="406.72" y="82.60" width="4.34" height="4.33" fill="#0F9FFB"/>
<rect x="410.26" y="82.60" width="4.34" height="4.33" fill="#29B3FF"/>
<rect x="413.80" y="82.60" width="4.34" height="4.33" fill="#11A8FF"/>
<rect x="417.34" y="82.60" width="4.34" height="4.33" fill="#1E85CC"/>
<rect x="420.88" y="82.60" width="4.34" height="4.33" fill="#1298ED"/>
<rect x="424.42" y="82.60" width="4.34" height="4.33" fill="#0F9FFB"/>
<rect x="427.96" y="82.60" width="4.34" height="4.33" fill="#1E85CC"/>
<rect x="431.50" y="82.60" width="4.34" height="4.33" fill="#1E85CC"/>
<rect x="435.04" y="82.60" width="4.34" height="4.33" fill="#1298ED"/>
<rect x="438.58" y="82.60" width="4.34" height="4.33" fill="#217FC1"/>
<rect x="442.12" y="82.60" width="4.34" height="4.33" fill="#1592E4"/>
<rect x="445.66" y="82.60" width="4.34" height="4.33" fill="#1E85CC"/>
<rect x="449.20" y="82.60" width="4.34" height="4.33" fill="#1592E4"/>
<rect x="452.74" y="82.60" width="4.34" height="4.33" fill="#15B1FF"/>
<rect x="456.28" y="82.60" width="4.34" height="4.33" fill="#1A89D6"/>
<rect x="459.82" y="82.60" width="4.34" height="4.33" fill="#46B8FF"/>
<rect x="463.36" y="82.60" width="4.34" height="4.33" fill="#11A8FF"/>
<rect x="466.90" y="82.60" width="4.34" height="4.33" fill="#109AF2"/>
<rect x="470.44" y="82.60" width="4.34" height="4.33" fill="#29B3FF"/>
<rect x="473.98" y="82.60" width="4.34" height="4.33" fill="#109AF2"/>
<rect x="477.52" y="82.60" width="4.34" height="4.33" fill="#2972A8"/>
<rect x="481.06" y="82.60" width="4.34" height="4.33" fill="#46B8FF"/>
<rect x="484.60" y="82.60" width="4.34" height="4.33" fill="#0EA4FF"/>
<rect x="488.14" y="82.60" width="4.34" height="4.33" fill="#11ACFF"/>
<rect x="491.68" y="82.60" width="4.34" height="4.33" fill="#0F9FFB"/>
<rect x="495.22" y="82.60" width="4.34" height="4.33" fill="#29B3FF"/>
<rect x="498.76" y="82.60" width="4.34" height="4.33" fill="#33B5FF"/>
<rect x="502.30" y="82.60" width="4.34" height="4.33" fill="#109AF2"/>
<rect x="505.84" y="82.60" width="4.34" height="4.33" fill="#29B3FF"/>
<rect x="509.38" y="82.60" width="4.34" height="4.33" fill="#6BC1FF"/>
<rect x="512.92" y="82.60" width="4.34" height="4.33" fill="#15B1FF"/>
<rect x="516.46" y="82.60" width="4.34" height="4.33" fill="#6BC1FF"/>
<rect x="520.00" y="82.60" width="4.34" height="4.33" fill="#6BC1FF"/>
<rect x="523.54" y="82.60" width="4.34" height="4.33" fill="#64BFFF"/>
<rect x="527.08" y="82.60" width="4.34" height="4.33" fill="#64BFFF"/>
<rect x="530.62" y="82.60" width="4.34" height="4.33" fill="#7CC6FF"/>
<rect x="534.16" y="82.60" width="3.54" height="3.53" fill="#7CC6FF"/>
<rect x="381.94" y="86.13" width="4.34" height="3.53" fill="#7CC6FF"/>
<rect x="385.48" y="86.13" width="4.34" height="4.33" fill="#71C3FF"/>
<rect x="389.02" y="86.13" width="4.34" height="4.33" fill="#71C3FF"/>
<rect x="392.56" y="86.13" width="4.34" height="4.33" fill="#6BC1FF"/>
<rect x="396.10" y="86.13" width="4.34" height="4.33" fill="#33B5FF"/>
<rect x="399.64" y="86.13" width="4.34" height="4.33" fill="#64BFFF"/>
<rect x="403.18" y="86.13" width="4.34" height="4.33" fill="#11ACFF"/>
<rect x="406.72" y="86.13" width="4.34" height="4.33" fill="#64BFFF"/>
<rect x="410.26" y="86.13" width="4.34" height="4.33" fill="#15B1FF"/>
<rect x="413.80" y="86.13" width="4.34" height="4.33" fill="#0EA4FF"/>
<rect x="417.34" y="86.13" width="4.34" height="4.33" fill="#1298ED"/>
<rect x="420.88" y="86.13" width="4.34" height="4.33" fill="#188CDA"/>
<rect x="424.42" y="86.13" width="4.34" height="4.33" fill="#1A89D6"/>
<rect x="427.96" y="86.13" width="4.34" height="4.33" fill="#1A89D6"/>
<rect x="431.50" y="86.13" width="4.34" height="4.33" fill="#2A70A4"/>
<rect x="435.04" y="86.13" width="4.34" height="4.33" fill="#1A89D6"/>
<rect x="438.58" y="86.13" width="4.34" height="4.33" fill="#1A89D6"/>
<rect x="442.12" y="86.13" width="4.34" height="4.33" fill="#188CDA"/>
<rect x="445.66" y="86.13" width="4.34" height="4.33" fill="#217FC1"/>
<rect x="449.20" y="86.13" width="4.34" height="4.33" fill="#46B8FF"/>
<rect x="452.74" y="86.13" width="4.34" height="4.33" fill="#1298ED"/>
<rect x="456.28" y="86.13" width="4.34" height="4.33" fill="#15B1FF"/>
<rect x="459.82" y="86.13" width="4.34" height="4.33" fill="#64BFFF"/>
<rect x="463.36" y="86.13" width="4.34" height="4.33" fill="#11A8FF"/>
<rect x="466.90" y="86.13" width="4.34" height="4.33" fill="#11A8FF"/>
<rect x="470.44" y="86.13" width="4.34" height="4.33" fill="#0EA4FF"/>
<rect x="473.98" y="86.13" width="4.34" height="4.33" fill="#46B8FF"/>
<rect x="477.52" y="86.13" width="4.34" height="4.33" fill="#29B3FF"/>
<rect x="481.06" y="86.13" width="4.34" height="4.33" fill="#11A8FF"/>
<rect x="484.60" y="86.13" width="4.34" height="4.33" fill="#11ACFF"/>
<rect x="488.14" y="86.13" width="4.34" height="4.33" fill="#109AF2"/>
<rect x="491.68" y="86.13" width="4.34" height="4.33" fill="#11A8FF"/>
<rect x="495.22" y="86.13" width="4.34" height="4.33" fill="#29B3FF"/>
<rect x="498.76" y="86.13" width="4.34" height="4.33" fill="#0EA4FF"/>
<rect x="502.30" y="86.13" width="4.34" height="4.33" fill="#11A8FF"/>
<rect x="505.84" y="86.13" width="4.34" height="4.33" fill="#56BBFF"/>
<rect x="509.38" y="86.13" width="4.34" height="4.33" fill="#56BBFF"/>
<rect x="512.92" y="86.13" width="4.34" height="4.33" fill="#64BFFF"/>
<rect x="516.46" y="86.13" width="4.34" height="4.33" fill="#6BC1FF"/>
<rect x="520.00" y="86.13" width="4.34" height="4.33" fill="#77C4FF"/>
<rect x="523.54" y="86.13" width="4.34" height="4.33" fill="#77C4FF"/>
<rect x="527.08" y="86.13" width="4.34" height="4.33" fill="#56BBFF"/>
<rect x="530.62" y="86.13" width="3.54" height="4.33" fill="#7CC6FF"/>
<rect x="378.40" y="89.66" width="3.54" height="3.53" fill="#7CC6FF"/>
<rect x="385.48" y="89.66" width="4.34" height="4.33" fill="#87CAFE"/>
<rect x="389.02" y="89.66" width="4.34" height="4.33" fill="#46B8FF"/>
<rect x="392.56" y="89.66" width="4.34" height="4.33" fill="#11ACFF"/>
<rect x="396.10" y="89.66" width="4.34" height="4.33" fill="#33B5FF"/>
<rect x="399.64" y="89.66" width="4.34" height="4.33" fill="#11ACFF"/>
<rect x="403.18" y="89.66" width="4.34" height="4.33" fill="#11ACFF"/>
<rect x="406.72" y="89.66" width="4.34" height="4.33" fill="#109AF2"/>
<rect x="410.26" y="89.66" width="4.34" height="4.33" fill="#15B1FF"/>
<rect x="413.80" y="89.66" width="4.34" height="4.33" fill="#109AF2"/>
<rect x="417.34" y="89.66" width="4.34" height="4.33" fill="#0F9FFB"/>
<rect x="420.88" y="89.66" width="4.34" height="4.33" fill="#11A8FF"/>
<rect x="424.42" y="89.66" width="4.34" height="4.33" fill="#1A89D6"/>
<rect x="427.96" y="89.66" width="4.34" height="4.33" fill="#0EA4FF"/>
<rect x="431.50" y="89.66" width="4.34" height="4.33" fill="#11ACFF"/>
<rect x="435.04" y="89.66" width="4.34" height="4.33" fill="#2972A8"/>
<rect x="438.58" y="89.66" width="4.34" height="4.33" fill="#1298ED"/>
<rect x="442.12" y="89.66" width="4.34" height="4.33" fill="#2C6A99"/>
<rect x="445.66" y="89.66" width="4.34" height="4.33" fill="#109AF2"/>
<rect x="449.20" y="89.66" width="4.34" height="4.33" fill="#11ACFF"/>
<rect x="452.74" y="89.66" width="4.34" height="4.33" fill="#0EA4FF"/>
<rect x="456.28" y="89.66" width="4.34" height="4.33" fill="#11ACFF"/>
<rect x="459.82" y="89.66" width="4.34" height="4.33" fill="#1592E4"/>
<rect x="463.36" y="89.66" width="4.34" height="4.33" fill="#11A8FF"/>
<rect x="466.90" y="89.66" width="4.34" height="4.33" fill="#11ACFF"/>
<rect x="470.44" y="89.66" width="4.34" height="4.33" fill="#11ACFF"/>
<rect x="473.98" y="89.66" width="4.34" height="4.33" fill="#29B3FF"/>
<rect x="477.52" y="89.66" width="4.34" height="4.33" fill="#64BFFF"/>
<rect x="481.06" y="89.66" width="4.34" height="4.33" fill="#15B1FF"/>
<rect x="484.60" y="89.66" width="4.34" height="4.33" fill="#11ACFF"/>
<rect x="488.14" y="89.66" width="4.34" height="4.33" fill="#11A8FF"/>
<rect x="491.68" y="89.66" width="4.34" height="4.33" fill="#15B1FF"/>
<rect x="495.22" y="89.66" width="4.34" height="4.33" fill="#11A8FF"/>
<rect x="498.76" y="89.66" width="4.34" height="4.33" fill="#46B8FF"/>
<rect x="502.30" y="89.66" width="4.34" height="4.33" fill="#11A8FF"/>
<rect x="505.84" y="89.66" width="4.34" height="4.33" fill="#56BBFF"/>
<rect x="509.38" y="89.66" width="4.34" height="4.33" fill="#29B3FF"/>
<rect x="512.92" y="89.66" width="4.34" height="4.33" fill="#64BFFF"/>
<rect x="516.46" y="89.66" width="4.34" height="4.33" fill="#15B1FF"/>
<rect x="520.00" y="89.66" width="4.34" height="4.33" fill="#56BBFF"/>
<rect x="523.54" y="89.66" width="4.34" height="4.33" fill="#56BBFF"/>
<rect x="527.08" y="89.66" width="4.34" height="4.33" fill="#77C4FF"/>
<rect x="530.62" y="89.66" width="4.34" height="4.33" fill="#87CAFE"/>
<rect x="534.16" y="89.66" width="3.54" height="4.33" fill="#71C3FF"/>
<rect x="381.94" y="93.19" width="4.34" height="3.53" fill="#71C3FF"/>
<rect x="385.48" y="93.19" width="4.34" height="4.33" fill="#7CC6FF"/>
<rect x="389.02" y="93.19" width="4.34" height="4.33" fill="#64BFFF"/>
<rect x="392.56" y="93.19" width="4.34" height="4.33" fill="#56BBFF"/>
<rect x="396.10" y="93.19" width="4.34" height="4.33" fill="#6BC1FF"/>
<rect x="399.64" y="93.19" width="4.34" height="4.33" fill="#0EA4FF"/>
<rect x="403.18" y="93.19" width="4.34" height="4.33" fill="#46B8FF"/>
<rect x="406.72" y="93.19" width="4.34" height="4.33" fill="#1298ED"/>
<rect x="410.26" y="93.19" width="4.34" height="4.33" fill="#77C4FF"/>
<rect x="413.80" y="93.19" width="4.34" height="4.33" fill="#109AF2"/>
<rect x="417.34" y="93.19" width="4.34" height="4.33" fill="#227DBD"/>
<rect x="420.88" y="93.19" width="4.34" height="4.33" fill="#188CDA"/>
<rect x="424.42" y="93.19" width="4.34" height="4.33" fill="#188CDA"/>
<rect x="427.96" y="93.19" width="4.34" height="4.33" fill="#1A89D6"/>
<rect x="431.50" y="93.19" width="4.34" height="4.33" fill="#217FC1"/>
<rect x="435.04" y="93.19" width="4.34" height="4.33" fill="#11A8FF"/>
<rect x="438.58" y="93.19" width="4.34" height="4.33" fill="#0EA4FF"/>
<rect x="442.12" y="93.19" width="4.34" height="4.33" fill="#1A89D6"/>
<rect x="445.66" y="93.19" width="4.34" height="4.33" fill="#0EA4FF"/>
<rect x="449.20" y="93.19" width="4.34" height="4.33" fill="#29B3FF"/>
<rect x="452.74" y="93.19" width="4.34" height="4.33" fill="#1592E4"/>
<rect x="456.28" y="93.19" width="4.34" height="4.33" fill="#1298ED"/>
<rect x="459.82" y="93.19" width="4.34" height="4.33" fill="#0EA4FF"/>
<rect x="463.36" y="93.19" width="4.34" height="4.33" fill="#109AF2"/>
<rect x="466.90" y="93.19" width="4.34" height="4.33" fill="#109AF2"/>
<rect x="470.44" y="93.19" width="4.34" height="4.33" fill="#29B3FF"/>
<rect x="473.98" y="93.19" width="4.34" height="4.33" fill="#56BBFF"/>
<rect x="477.52" y="93.19" width="4.34" height="4.33" fill="#11ACFF"/>
<rect x="481.06" y="93.19" width="4.34" height="4.33" fill="#46B8FF"/>
<rect x="484.60" y="93.19" width="4.34" height="4.33" fill="#29B3FF"/>
<rect x="488.14" y="93.19" width="4.34" height="4.33" fill="#0EA4FF"/>
<rect x="491.68" y="93.19" width="4.34" height="4.33" fill="#15B1FF"/>
<rect x="495.22" y="93.19" width="4.34" height="4.33" fill="#1298ED"/>
<rect x="498.76" y="93.19" width="4.34" height="4.33" fill="#15B1FF"/>
<rect x="502.30" y="93.19" width="4.34" height="4.33" fill="#6BC1FF"/>
<rect x="505.84" y="93.19" width="4.34" height="4.33" fill="#11ACFF"/>
<rect x="509.38" y="93.19" width="4.34" height="4.33" fill="#33B5FF"/>
<rect x="512.92" y="93.19" width="4.34" height="4.33" fill="#11A8FF"/>
<rect x="516.46" y="93.19" width="4.34" height="4.33" fill="#64BFFF"/>
<rect x="520.00" y="93.19" width="4.34" height="4.33" fill="#56BBFF"/>
<rect x="523.54" y="93.19" width="4.34" height="4.33" fill="#11A8FF"/>
<rect x="527.08" y="93.19" width="4.34" height="4.33" fill="#56BBFF"/>
<rect x="530.62" y="93.19" width="4.34" height="4.33" fill="#64BFFF"/>
<rect x="534.16" y="93.19" width="3.54" height="4.33" fill="#7CC6FF"/>
<rect x="385.48" y="96.72" width="4.34" height="4.33" fill="#87CAFE"/>
<rect x="389.02" y="96.72" width="4.34" height="4.33" fill="#87CAFE"/>
<rect x="392.56" y="96.72" width="4.34" height="4.33" fill="#87CAFE"/>
<rect x="396.10" y="96.72" width="4.34" height="4.33" fill="#82C8FF"/>
<rect x="399.64" y="96.72" width="4.34" height="4.33" fill="#46B8FF"/>
<rect x="403.18" y="96.72" width="4.34" height="4.33" fill="#11A8FF"/>
<rect x="406.72" y="96.72" width="4.34" height="4.33" fill="#29B3FF"/>
<rect x="410.26" y="96.72" width="4.34" height="4.33" fill="#1592E4"/>
<rect x="413.80" y="96.72" width="4.34" height="4.33" fill="#109AF2"/>
<rect x="417.34" y="96.72" width="4.34" height="4.33" fill="#0EA4FF"/>
<rect x="420.88" y="96.72" width="4.34" height="4.33" fill="#0EA4FF"/>
<rect x="424.42" y="96.72" width="4.34" height="4.33" fill="#0F9FFB"/>
<rect x="427.96" y="96.72" width="4.34" height="4.33" fill="#188CDA"/>
<rect x="431.50" y="96.72" width="4.34" height="4.33" fill="#29B3FF"/>
<rect x="435.04" y="96.72" width="4.34" height="4.33" fill="#0F9FFB"/>
<rect x="438.58" y="96.72" width="4.34" height="4.33" fill="#2972A8"/>
<rect x="442.12" y="96.72" width="4.34" height="4.33" fill="#1592E4"/>
<rect x="445.66" y="96.72" width="4.34" height="4.33" fill="#0F9FFB"/>
<rect x="449.20" y="96.72" width="4.34" height="4.33" fill="#0F9FFB"/>
<rect x="452.74" y="96.72" width="4.34" height="4.33" fill="#15B1FF"/>
<rect x="456.28" y="96.72" width="4.34" height="4.33" fill="#0EA4FF"/>
<rect x="459.82" y="96.72" width="4.34" height="4.33" fill="#15B1FF"/>
<rect x="463.36" y="96.72" width="4.34" height="4.33" fill="#0EA4FF"/>
<rect x="466.90" y="96.72" width="4.34" height="4.33" fill="#11A8FF"/>
<rect x="470.44" y="96.72" width="4.34" height="4.33" fill="#11A8FF"/>
<rect x="473.98" y="96.72" width="4.34" height="4.33" fill="#0EA4FF"/>
<rect x="477.52" y="96.72" width="4.34" height="4.33" fill="#29B3FF"/>
<rect x="481.06" y="96.72" width="4.34" height="4.33" fill="#0EA4FF"/>
<rect x="484.60" y="96.72" width="4.34" height="4.33" fill="#11ACFF"/>
<rect x="488.14" y="96.72" width="4.34" height="4.33" fill="#0EA4FF"/>
<rect x="491.68" y="96.72" width="4.34" height="4.33" fill="#0EA4FF"/>
<rect x="495.22" y="96.72" width="4.34" height="4.33" fill="#0F9FFB"/>
<rect x="498.76" y="96.72" width="4.34" height="4.33" fill="#33B5FF"/>
<rect x="502.30" y="96.72" width="4.34" height="4.33" fill="#0F9FFB"/>
<rect x="505.84" y="96.72" width="4.34" height="4.33" fill="#33B5FF"/>
<rect x="509.38" y="96.72" width="4.34" height="4.33" fill="#11ACFF"/>
<rect x="512.92" y="96.72" width="4.34" height="4.33" fill="#0EA4FF"/>
<rect x="516.46" y="96.72" width="4.34" height="4.33" fill="#46B8FF"/>
<rect x="520.00" y="96.72" width="4.34" height="4.33" fill="#29B3FF"/>
<rect x="523.54" y="96.72" width="4.34" height="4.33" fill="#0EA4FF"/>
<rect x="527.08" y="96.72" width="4.34" height="4.33" fill="#6BC1FF"/>
<rect x="530.62" y="96.72" width="4.34" height="4.33" fill="#64BFFF"/>
<rect x="534.16" y="96.72" width="3.54" height="4.33" fill="#4EB9FF"/>
<rect x="378.40" y="100.25" width="4.34" height="4.33" fill="#87CAFE"/>
<rect x="381.94" y="100.25" width="4.34" height="4.33" fill="#87CAFE"/>
<rect x="385.48" y="100.25" width="4.34" height="4.33" fill="#87CAFE"/>
<rect x="389.02" y="100.25" width="4.34" height="4.33" fill="#46B8FF"/>
<rect x="392.56" y="100.25" width="4.34" height="4.33" fill="#29B3FF"/>
<rect x="396.10" y="100.25" width="4.34" height="4.33" fill="#46B8FF"/>
<rect x="399.64" y="100.25" width="4.34" height="4.33" fill="#0EA4FF"/>
<rect x="403.18" y="100.25" width="4.34" height="4.33" fill="#0EA4FF"/>
<rect x="406.72" y="100.25" width="4.34" height="4.33" fill="#11A8FF"/>
<rect x="410.26" y="100.25" width="4.34" height="4.33" fill="#1E85CC"/>
<rect x="413.80" y="100.25" width="4.34" height="4.33" fill="#46B8FF"/>
<rect x="417.34" y="100.25" width="4.34" height="4.33" fill="#15B1FF"/>
<rect x="420.88" y="100.25" width="4.34" height="4.33" fill="#0EA4FF"/>
<rect x="424.42" y="100.25" width="4.34" height="4.33" fill="#1298ED"/>
<rect x="427.96" y="100.25" width="4.34" height="4.33" fill="#2C6A99"/>
<rect x="431.50" y="100.25" width="4.34" height="4.33" fill="#29B3FF"/>
<rect x="435.04" y="100.25" width="4.34" height="4.33" fill="#1592E4"/>
<rect x="438.58" y="100.25" width="4.34" height="4.33" fill="#0EA4FF"/>
<rect x="442.12" y="100.25" width="4.34" height="4.33" fill="#0EA4FF"/>
<rect x="445.66" y="100.25" width="4.34" height="4.33" fill="#109AF2"/>
<rect x="449.20" y="100.25" width="4.34" height="4.33" fill="#0EA4FF"/>
<rect x="452.74" y="100.25" width="4.34" height="4.33" fill="#29B3FF"/>
<rect x="456.28" y="100.25" width="4.34" height="4.33" fill="#109AF2"/>
<rect x="459.82" y="100.25" width="4.34" height="4.33" fill="#11ACFF"/>
<rect x="463.36" y="100.25" width="4.34" height="4.33" fill="#11ACFF"/>
<rect x="466.90" y="100.25" width="4.34" height="4.33" fill="#15B1FF"/>
<rect x="470.44" y="100.25" width="4.34" height="4.33" fill="#29B3FF"/>
<rect x="473.98" y="100.25" width="4.34" height="4.33" fill="#15B1FF"/>
<rect x="477.52" y="100.25" width="4.34" height="4.33" fill="#1298ED"/>
<rect x="481.06" y="100.25" width="4.34" height="4.33" fill="#46B8FF"/>
<rect x="484.60" y="100.25" width="4.34" height="4.33" fill="#33B5FF"/>
<rect x="488.14" y="100.25" width="4.34" height="4.33" fill="#64BFFF"/>
<rect x="491.68" y="100.25" width="4.34" height="4.33" fill="#1298ED"/>
<rect x="495.22" y="100.25" width="4.34" height="4.33" fill="#11ACFF"/>
<rect x="498.76" y="100.25" width="4.34" height="4.33" fill="#1592E4"/>
<rect x="502.30" y="100.25" width="4.34" height="4.33" fill="#0EA4FF"/>
<rect x="505.84" y="100.25" width="4.34" height="4.33" fill="#11A8FF"/>
<rect x="509.38" y="100.25" width="4.34" height="4.33" fill="#0F9FFB"/>
<rect x="512.92" y="100.25" width="4.34" height="4.33" fill="#11A8FF"/>
<rect x="516.46" y="100.25" width="4.34" height="4.33" fill="#15B1FF"/>
<rect x="520.00" y="100.25" width="4.34" height="4.33" fill="#64BFFF"/>
<rect x="523.54" y="100.25" width="4.34" height="4.33" fill="#11A8FF"/>
<rect x="527.08" y="100.25" width="4.34" height="4.33" fill="#56BBFF"/>
<rect x="530.62" y="100.25" width="4.34" height="4.33" fill="#15B1FF"/>
<rect x="534.16" y="100.25" width="3.54" height="4.33" fill="#64BFFF"/>
<rect x="374.86" y="103.78" width="4.34" height="4.33" fill="#87CAFE"/>
<rect x="378.40" y="103.78" width="4.34" height="4.33" fill="#87CAFE"/>
<rect x="381.94" y="103.78" width="4.34" height="4.33" fill="#87CAFE"/>
<rect x="385.48" y="103.78" width="4.34" height="4.33" fill="#6BC1FF"/>
<rect x="389.02" y="103.78" width="4.34" height="4.33" fill="#46B8FF"/>
<rect x="392.56" y="103.78" width="4.34" height="4.33" fill="#33B5FF"/>
<rect x="396.10" y="103.78" width="4.34" height="4.33" fill="#11ACFF"/>
<rect x="399.64" y="103.78" width="4.34" height="4.33" fill="#46B8FF"/>
<rect x="403.18" y="103.78" width="4.34" height="4.33" fill="#11ACFF"/>
<rect x="406.72" y="103.78" width="4.34" height="4.33" fill="#29B3FF"/>
<rect x="410.26" y="103.78" width="4.34" height="4.33" fill="#0EA4FF"/>
<rect x="413.80" y="103.78" width="4.34" height="4.33" fill="#1592E4"/>
<rect x="417.34" y="103.78" width="4.34" height="4.33" fill="#11ACFF"/>
<rect x="420.88" y="103.78" width="4.34" height="4.33" fill="#1E85CC"/>
<rect x="424.42" y="103.78" width="4.34" height="4.33" fill="#1592E4"/>
<rect x="427.96" y="103.78" width="4.34" height="4.33" fill="#1A89D6"/>
<rect x="431.50" y="103.78" width="4.34" height="4.33" fill="#0EA4FF"/>
<rect x="435.04" y="103.78" width="4.34" height="4.33" fill="#2677B3"/>
<rect x="438.58" y="103.78" width="4.34" height="4.33" fill="#109AF2"/>
<rect x="442.12" y="103.78" width="4.34" height="4.33" fill="#1592E4"/>
<rect x="445.66" y="103.78" width="4.34" height="4.33" fill="#11A8FF"/>
<rect x="449.20" y="103.78" width="4.34" height="4.33" fill="#1592E4"/>
<rect x="452.74" y="103.78" width="4.34" height="4.33" fill="#1298ED"/>
<rect x="456.28" y="103.78" width="4.34" height="4.33" fill="#0F9FFB"/>
<rect x="459.82" y="103.78" width="4.34" height="4.33" fill="#33B5FF"/>
<rect x="463.36" y="103.78" width="4.34" height="4.33" fill="#1298ED"/>
<rect x="466.90" y="103.78" width="4.34" height="4.33" fill="#0F9FFB"/>
<rect x="470.44" y="103.78" width="4.34" height="4.33" fill="#11A8FF"/>
<rect x="473.98" y="103.78" width="4.34" height="4.33" fill="#0EA4FF"/>
<rect x="477.52" y="103.78" width="4.34" height="4.33" fill="#56BBFF"/>
<rect x="481.06" y="103.78" width="4.34" height="4.33" fill="#11ACFF"/>
<rect x="484.60" y="103.78" width="4.34" height="4.33" fill="#46B8FF"/>
<rect x="488.14" y="103.78" width="4.34" height="4.33" fill="#56BBFF"/>
<rect x="491.68" y="103.78" width="4.34" height="4.33" fill="#11A8FF"/>
<rect x="495.22" y="103.78" width="4.34" height="4.33" fill="#1592E4"/>
<rect x="498.76" y="103.78" width="4.34" height="4.33" fill="#0EA4FF"/>
<rect x="502.30" y="103.78" width="4.34" height="4.33" fill="#15B1FF"/>
<rect x="505.84" y="103.78" width="4.34" height="4.33" fill="#29B3FF"/>
<rect x="509.38" y="103.78" width="4.34" height="4.33" fill="#11ACFF"/>
<rect x="512.92" y="103.78" width="4.34" height="4.33" fill="#11ACFF"/>
<rect x="516.46" y="103.78" width="4.34" height="4.33" fill="#109AF2"/>
<rect x="520.00" y="103.78" width="4.34" height="4.33" fill="#29B3FF"/>
<rect x="523.54" y="103.78" width="4.34" height="4.33" fill="#46B8FF"/>
<rect x="527.08" y="103.78" width="4.34" height="4.33" fill="#56BBFF"/>
<rect x="530.62" y="103.78" width="4.34" height="4.33" fill="#6BC1FF"/>
<rect x="534.16" y="103.78" width="3.54" height="4.33" fill="#64BFFF"/>
<rect x="371.32" y="107.31" width="4.34" height="4.33" fill="#87CAFE"/>
<rect x="374.86" y="107.31" width="4.34" height="4.33" fill="#87CAFE"/>
<rect x="378.40" y="107.31" width="4.34" height="3.53" fill="#64BFFF"/>
<rect x="381.94" y="107.31" width="4.34" height="4.33" fill="#46B8FF"/>
<rect x="385.48" y="107.31" width="4.34" height="4.33" fill="#56BBFF"/>
<rect x="389.02" y="107.31" width="4.34" height="4.33" fill="#64BFFF"/>
<rect x="392.56" y="107.31" width="4.34" height="4.33" fill="#15B1FF"/>
<rect x="396.10" y="107.31" width="4.34" height="4.33" fill="#33B5FF"/>
<rect x="399.64" y="107.31" width="4.34" height="4.33" fill="#11A8FF"/>
<rect x="403.18" y="107.31" width="4.34" height="4.33" fill="#0EA4FF"/>
<rect x="406.72" y="107.31" width="4.34" height="4.33" fill="#11ACFF"/>
<rect x="410.26" y="107.31" width="4.34" height="4.33" fill="#0F9FFB"/>
<rect x="413.80" y="107.31" width="4.34" height="4.33" fill="#11ACFF"/>
<rect x="417.34" y="107.31" width="4.34" height="4.33" fill="#33B5FF"/>
<rect x="420.88" y="107.31" width="4.34" height="4.33" fill="#0EA4FF"/>
<rect x="424.42" y="107.31" width="4.34" height="4.33" fill="#11ACFF"/>
<rect x="427.96" y="107.31" width="4.34" height="4.33" fill="#0EA4FF"/>
<rect x="431.50" y="107.31" width="4.34" height="4.33" fill="#109AF2"/>
<rect x="435.04" y="107.31" width="4.34" height="4.33" fill="#0F9FFB"/>
<rect x="438.58" y="107.31" width="4.34" height="4.33" fill="#109AF2"/>
<rect x="442.12" y="107.31" width="4.34" height="4.33" fill="#1592E4"/>
<rect x="445.66" y="107.31" width="4.34" height="4.33" fill="#1298ED"/>
<rect x="449.20" y="107.31" width="4.34" height="4.33" fill="#1298ED"/>
<rect x="452.74" y="107.31" width="4.34" height="4.33" fill="#109AF2"/>
<rect x="456.28" y="107.31" width="4.34" height="4.33" fill="#109AF2"/>
<rect x="459.82" y="107.31" width="4.34" height="4.33" fill="#11ACFF"/>
<rect x="463.36" y="107.31" width="4.34" height="4.33" fill="#0F9FFB"/>
<rect x="466.90" y="107.31" width="4.34" height="4.33" fill="#33B5FF"/>
<rect x="470.44" y="107.31" width="4.34" height="4.33" fill="#188CDA"/>
<rect x="473.98" y="107.31" width="4.34" height="4.33" fill="#15B1FF"/>
<rect x="477.52" y="107.31" width="4.34" height="4.33" fill="#15B1FF"/>
<rect x="481.06" y="107.31" width="4.34" height="4.33" fill="#56BBFF"/>
<rect x="484.60" y="107.31" width="4.34" height="4.33" fill="#0EA4FF"/>
<rect x="488.14" y="107.31" width="4.34" height="4.33" fill="#188CDA"/>
<rect x="491.68" y="107.31" width="4.34" height="4.33" fill="#29B3FF"/>
<rect x="495.22" y="107.31" width="4.34" height="4.33" fill="#0EA4FF"/>
<rect x="498.76" y="107.31" width="4.34" height="4.33" fill="#11ACFF"/>
<rect x="502.30" y="107.31" width="4.34" height="4.33" fill="#33B5FF"/>
<rect x="505.84" y="107.31" width="4.34" height="4.33" fill="#11A8FF"/>
<rect x="509.38" y="107.31" width="4.34" height="4.33" fill="#11ACFF"/>
<rect x="512.92" y="107.31" width="4.34" height="4.33" fill="#0EA4FF"/>
<rect x="516.46" y="107.31" width="4.34" height="4.33" fill="#1298ED"/>
<rect x="520.00" y="107.31" width="4.34" height="4.33" fill="#46B8FF"/>
<rect x="523.54" y="107.31" width="4.34" height="4.33" fill="#11ACFF"/>
<rect x="527.08" y="107.31" width="4.34" height="4.33" fill="#11ACFF"/>
<rect x="530.62" y="107.31" width="4.34" height="4.33" fill="#64BFFF"/>
<rect x="534.16" y="107.31" width="3.54" height="4.33" fill="#56BBFF"/>
<rect x="371.32" y="110.84" width="4.34" height="3.53" fill="#87CAFE"/>
<rect x="374.86" y="110.84" width="3.54" height="4.33" fill="#71C3FF"/>
<rect x="381.94" y="110.84" width="4.34" height="4.33" fill="#56BBFF"/>
<rect x="385.48" y="110.84" width="4.34" height="4.33" fill="#82C8FF"/>
<rect x="389.02" y="110.84" width="4.34" height="4.33" fill="#33B5FF"/>
<rect x="392.56" y="110.84" width="4.34" height="4.33" fill="#33B5FF"/>
<rect x="396.10" y="110.84" width="4.34" height="3.53" fill="#11ACFF"/>
<rect x="399.64" y="110.84" width="4.34" height="4.33" fill="#15B1FF"/>
<rect x="403.18" y="110.84" width="4.34" height="4.33" fill="#11A8FF"/>
<rect x="406.72" y="110.84" width="4.34" height="4.33" fill="#15B1FF"/>
<rect x="410.26" y="110.84" width="4.34" height="4.33" fill="#11ACFF"/>
<rect x="413.80" y="110.84" width="4.34" height="4.33" fill="#15B1FF"/>
<rect x="417.34" y="110.84" width="4.34" height="4.33" fill="#2C6A99"/>
<rect x="420.88" y="110.84" width="4.34" height="4.33" fill="#11ACFF"/>
<rect x="424.42" y="110.84" width="4.34" height="4.33" fill="#0F9FFB"/>
<rect x="427.96" y="110.84" width="4.34" height="4.33" fill="#109AF2"/>
<rect x="431.50" y="110.84" width="4.34" height="4.33" fill="#1592E4"/>
<rect x="435.04" y="110.84" width="4.34" height="4.33" fill="#1592E4"/>
<rect x="438.58" y="110.84" width="4.34" height="4.33" fill="#1298ED"/>
<rect x="442.12" y="110.84" width="4.34" height="4.33" fill="#0EA4FF"/>
<rect x="445.66" y="110.84" width="4.34" height="4.33" fill="#188CDA"/>
<rect x="449.20" y="110.84" width="4.34" height="4.33" fill="#1298ED"/>
<rect x="452.74" y="110.84" width="4.34" height="4.33" fill="#0F9FFB"/>
<rect x="456.28" y="110.84" width="4.34" height="4.33" fill="#11A8FF"/>
<rect x="459.82" y="110.84" width="4.34" height="4.33" fill="#0EA4FF"/>
<rect x="463.36" y="110.84" width="4.34" height="4.33" fill="#46B8FF"/>
<rect x="466.90" y="110.84" width="4.34" height="4.33" fill="#33B5FF"/>
<rect x="470.44" y="110.84" width="4.34" height="4.33" fill="#29B3FF"/>
<rect x="473.98" y="110.84" width="4.34" height="4.33" fill="#109AF2"/>
<rect x="477.52" y="110.84" width="4.34" height="4.33" fill="#109AF2"/>
<rect x="481.06" y="110.84" width="4.34" height="4.33" fill="#33B5FF"/>
<rect x="484.60" y="110.84" width="4.34" height="4.33" fill="#109AF2"/>
<rect x="488.14" y="110.84" width="4.34" height="4.33" fill="#0EA4FF"/>
<rect x="491.68" y="110.84" width="4.34" height="4.33" fill="#0F9FFB"/>
<rect x="495.22" y="110.84" width="4.34" height="4.33" fill="#227DBD"/>
<rect x="498.76" y="110.84" width="4.34" height="4.33" fill="#11A8FF"/>
<rect x="502.30" y="110.84" width="4.34" height="4.33" fill="#188CDA"/>
<rect x="505.84" y="110.84" width="4.34" height="4.33" fill="#11A8FF"/>
<rect x="509.38" y="110.84" width="4.34" height="4.33" fill="#46B8FF"/>
<rect x="512.92" y="110.84" width="4.34" height="4.33" fill="#11A8FF"/>
<rect x="516.46" y="110.84" width="4.34" height="4.33" fill="#1592E4"/>
<rect x="520.00" y="110.84" width="4.34" height="4.33" fill="#11ACFF"/>
<rect x="523.54" y="110.84" width="4.34" height="4.33" fill="#56BBFF"/>
<rect x="527.08" y="110.84" width="4.34" height="4.33" fill="#0EA4FF"/>
<rect x="530.62" y="110.84" width="4.34" height="4.33" fill="#46B8FF"/>
<rect x="534.16" y="110.84" width="3.54" height="4.33" fill="#6BC1FF"/>
<rect x="374.86" y="114.37" width="4.34" height="4.33" fill="#87CAFE"/>
<rect x="378.40" y="114.37" width="4.34" height="4.33" fill="#87CAFE"/>
<rect x="381.94" y="114.37" width="4.34" height="3.53" fill="#3EB6FF"/>
<rect x="385.48" y="114.37" width="4.34" height="4.33" fill="#82C8FF"/>
<rect x="389.02" y="114.37" width="4.34" height="4.33" fill="#56BBFF"/>
<rect x="392.56" y="114.37" width="3.54" height="4.33" fill="#29B3FF"/>
<rect x="399.64" y="114.37" width="4.34" height="4.33" fill="#0F9FFB"/>
<rect x="403.18" y="114.37" width="4.34" height="4.33" fill="#11ACFF"/>
<rect x="406.72" y="114.37" width="4.34" height="4.33" fill="#46B8FF"/>
<rect x="410.26" y="114.37" width="4.34" height="4.33" fill="#29B3FF"/>
<rect x="413.80" y="114.37" width="4.34" height="4.33" fill="#33B5FF"/>
<rect x="417.34" y="114.37" width="4.34" height="4.33" fill="#11ACFF"/>
<rect x="420.88" y="114.37" width="4.34" height="4.33" fill="#1592E4"/>
<rect x="424.42" y="114.37" width="4.34" height="4.33" fill="#188CDA"/>
<rect x="427.96" y="114.37" width="4.34" height="4.33" fill="#29B3FF"/>
<rect x="431.50" y="114.37" width="4.34" height="4.33" fill="#11A8FF"/>
<rect x="435.04" y="114.37" width="4.34" height="4.33" fill="#0F9FFB"/>
<rect x="438.58" y="114.37" width="4.34" height="4.33" fill="#1592E4"/>
<rect x="442.12" y="114.37" width="4.34" height="4.33" fill="#0F9FFB"/>
<rect x="445.66" y="114.37" width="4.34" height="4.33" fill="#109AF2"/>
<rect x="449.20" y="114.37" width="4.34" height="4.33" fill="#1298ED"/>
<rect x="452.74" y="114.37" width="4.34" height="4.33" fill="#1298ED"/>
<rect x="456.28" y="114.37" width="4.34" height="4.33" fill="#11ACFF"/>
<rect x="459.82" y="114.37" width="4.34" height="4.33" fill="#0EA4FF"/>
<rect x="463.36" y="114.37" width="4.34" height="4.33" fill="#109AF2"/>
<rect x="466.90" y="114.37" width="4.34" height="4.33" fill="#11ACFF"/>
<rect x="470.44" y="114.37" width="4.34" height="4.33" fill="#0F9FFB"/>
<rect x="473.98" y="114.37" width="4.34" height="4.33" fill="#29B3FF"/>
<rect x="477.52" y="114.37" width="4.34" height="4.33" fill="#56BBFF"/>
<rect x="481.06" y="114.37" width="4.34" height="4.33" fill="#1592E4"/>
<rect x="484.60" y="114.37" width="4.34" height="4.33" fill="#33B5FF"/>
<rect x="488.14" y="114.37" width="4.34" height="4.33" fill="#1A89D6"/>
<rect x="491.68" y="114.37" width="4.34" height="4.33" fill="#1298ED"/>
<rect x="495.22" y="114.37" width="4.34" height="4.33" fill="#11A8FF"/>
<rect x="498.76" y="114.37" width="4.34" height="4.33" fill="#11A8FF"/>
<rect x="502.30" y="114.37" width="4.34" height="4.33" fill="#1592E4"/>
<rect x="505.84" y="114.37" width="4.34" height="4.33" fill="#0F9FFB"/>
<rect x="509.38" y="114.37" width="4.34" height="4.33" fill="#1592E4"/>
<rect x="512.92" y="114.37" width="4.34" height="4.33" fill="#109AF2"/>
<rect x="516.46" y="114.37" width="4.34" height="4.33" fill="#0F9FFB"/>
<rect x="520.00" y="114.37" width="4.34" height="4.33" fill="#1298ED"/>
<rect x="523.54" y="114.37" width="4.34" height="4.33" fill="#109AF2"/>
<rect x="527.08" y="114.37" width="4.34" height="4.33" fill="#0F9FFB"/>
<rect x="530.62" y="114.37" width="4.34" height="4.33" fill="#15B1FF"/>
<rect x="534.16" y="114.37" width="3.54" height="4.33" fill="#56BBFF"/>
<rect x="371.32" y="117.90" width="4.34" height="3.53" fill="#7CC6FF"/>
<rect x="374.86" y="117.90" width="4.34" height="4.33" fill="#87CAFE"/>
<rect x="378.40" y="117.90" width="3.54" height="4.33" fill="#7CC6FF"/>
<rect x="385.48" y="117.90" width="4.34" height="4.33" fill="#56BBFF"/>
<rect x="389.02" y="117.90" width="4.34" height="4.33" fill="#56BBFF"/>
<rect x="392.56" y="117.90" width="4.34" height="3.53" fill="#1298ED"/>
<rect x="396.10" y="117.90" width="4.34" height="4.33" fill="#6BC1FF"/>
<rect x="399.64" y="117.90" width="4.34" height="4.33" fill="#33B5FF"/>
<rect x="403.18" y="117.90" width="4.34" height="4.33" fill="#0F9FFB"/>
<rect x="406.72" y="117.90" width="4.34" height="4.33" fill="#15B1FF"/>
<rect x="410.26" y="117.90" width="4.34" height="4.33" fill="#56BBFF"/>
<rect x="413.80" y="117.90" width="4.34" height="4.33" fill="#15B1FF"/>
<rect x="417.34" y="117.90" width="4.34" height="4.33" fill="#11ACFF"/>
<rect x="420.88" y="117.90" width="4.34" height="4.33" fill="#109AF2"/>
<rect x="424.42" y="117.90" width="4.34" height="4.33" fill="#109AF2"/>
<rect x="427.96" y="117.90" width="4.34" height="4.33" fill="#0F9FFB"/>
<rect x="431.50" y="117.90" width="4.34" height="4.33" fill="#0F9FFB"/>
<rect x="435.04" y="117.90" width="4.34" height="4.33" fill="#109AF2"/>
<rect x="438.58" y="117.90" width="4.34" height="4.33" fill="#217FC1"/>
<rect x="442.12" y="117.90" width="4.34" height="4.33" fill="#109AF2"/>
<rect x="445.66" y="117.90" width="4.34" height="4.33" fill="#15B1FF"/>
<rect x="449.20" y="117.90" width="4.34" height="4.33" fill="#0EA4FF"/>
<rect x="452.74" y="117.90" width="4.34" height="4.33" fill="#1298ED"/>
<rect x="456.28" y="117.90" width="4.34" height="4.33" fill="#11ACFF"/>
<rect x="459.82" y="117.90" width="4.34" height="4.33" fill="#1298ED"/>
<rect x="463.36" y="117.90" width="4.34" height="4.33" fill="#1298ED"/>
<rect x="466.90" y="117.90" width="4.34" height="4.33" fill="#0F9FFB"/>
<rect x="470.44" y="117.90" width="4.34" height="4.33" fill="#1A89D6"/>
<rect x="473.98" y="117.90" width="4.34" height="4.33" fill="#29B3FF"/>
<rect x="477.52" y="117.90" width="4.34" height="4.33" fill="#0F9FFB"/>
<rect x="481.06" y="117.90" width="4.34" height="4.33" fill="#15B1FF"/>
<rect x="484.60" y="117.90" width="4.34" height="4.33" fill="#188CDA"/>
<rect x="488.14" y="117.90" width="4.34" height="4.33" fill="#29B3FF"/>
<rect x="491.68" y="117.90" width="4.34" height="4.33" fill="#188CDA"/>
<rect x="495.22" y="117.90" width="4.34" height="4.33" fill="#0F9FFB"/>
<rect x="498.76" y="117.90" width="4.34" height="4.33" fill="#109AF2"/>
<rect x="502.30" y="117.90" width="4.34" height="4.33" fill="#188CDA"/>
<rect x="505.84" y="117.90" width="4.34" height="4.33" fill="#1592E4"/>
<rect x="509.38" y="117.90" width="4.34" height="4.33" fill="#188CDA"/>
<rect x="512.92" y="117.90" width="4.34" height="4.33" fill="#109AF2"/>
<rect x="516.46" y="117.90" width="4.34" height="4.33" fill="#2677B3"/>
<rect x="520.00" y="117.90" width="4.34" height="4.33" fill="#1592E4"/>
<rect x="523.54" y="117.90" width="4.34" height="4.33" fill="#1298ED"/>
<rect x="527.08" y="117.90" width="4.34" height="4.33" fill="#15B1FF"/>
<rect x="530.62" y="117.90" width="4.34" height="4.33" fill="#29B3FF"/>
<rect x="534.16" y="117.90" width="3.54" height="4.33" fill="#64BFFF"/>
<rect x="374.86" y="121.43" width="4.34" height="3.53" fill="#87CAFE"/>
<rect x="378.40" y="121.43" width="4.34" height="3.53" fill="#87CAFE"/>
<rect x="381.94" y="121.43" width="4.34" height="4.33" fill="#7CC6FF"/>
<rect x="385.48" y="121.43" width="4.34" height="4.33" fill="#46B8FF"/>
<rect x="389.02" y="121.43" width="3.54" height="3.53" fill="#64BFFF"/>
<rect x="396.10" y="121.43" width="4.34" height="3.53" fill="#56BBFF"/>
<rect x="399.64" y="121.43" width="4.34" height="4.33" fill="#29B3FF"/>
<rect x="403.18" y="121.43" width="4.34" height="4.33" fill="#46B8FF"/>
<rect x="406.72" y="121.43" width="4.34" height="4.33" fill="#11ACFF"/>
<rect x="410.26" y="121.43" width="4.34" height="4.33" fill="#0EA4FF"/>
<rect x="413.80" y="121.43" width="4.34" height="4.33" fill="#15B1FF"/>
<rect x="417.34" y="121.43" width="4.34" height="4.33" fill="#11ACFF"/>
<rect x="420.88" y="121.43" width="4.34" height="4.33" fill="#0EA4FF"/>
<rect x="424.42" y="121.43" width="4.34" height="4.33" fill="#1298ED"/>
<rect x="427.96" y="121.43" width="4.34" height="4.33" fill="#188CDA"/>
<rect x="431.50" y="121.43" width="4.34" height="4.33" fill="#2677B3"/>
<rect x="435.04" y="121.43" width="4.34" height="4.33" fill="#109AF2"/>
<rect x="438.58" y="121.43" width="4.34" height="4.33" fill="#15B1FF"/>
<rect x="442.12" y="121.43" width="4.34" height="4.33" fill="#2677B3"/>
<rect x="445.66" y="121.43" width="4.34" height="4.33" fill="#11ACFF"/>
<rect x="449.20" y="121.43" width="4.34" height="4.33" fill="#0EA4FF"/>
<rect x="452.74" y="121.43" width="4.34" height="4.33" fill="#15B1FF"/>
<rect x="456.28" y="121.43" width="4.34" height="4.33" fill="#15B1FF"/>
<rect x="459.82" y="121.43" width="4.34" height="4.33" fill="#188CDA"/>
<rect x="463.36" y="121.43" width="4.34" height="4.33" fill="#0F9FFB"/>
<rect x="466.90" y="121.43" width="4.34" height="4.33" fill="#11ACFF"/>
<rect x="470.44" y="121.43" width="4.34" height="4.33" fill="#0F9FFB"/>
<rect x="473.98" y="121.43" width="4.34" height="4.33" fill="#109AF2"/>
<rect x="477.52" y="121.43" width="4.34" height="4.33" fill="#109AF2"/>
<rect x="481.06" y="121.43" width="4.34" height="4.33" fill="#1592E4"/>
<rect x="484.60" y="121.43" width="4.34" height="4.33" fill="#15B1FF"/>
<rect x="488.14" y="121.43" width="4.34" height="4.33" fill="#1298ED"/>
<rect x="491.68" y="121.43" width="4.34" height="4.33" fill="#1298ED"/>
<rect x="495.22" y="121.43" width="4.34" height="4.33" fill="#11A8FF"/>
<rect x="498.76" y="121.43" width="4.34" height="4.33" fill="#2972A8"/>
<rect x="502.30" y="121.43" width="4.34" height="4.33" fill="#109AF2"/>
<rect x="505.84" y="121.43" width="4.34" height="4.33" fill="#0F9FFB"/>
<rect x="509.38" y="121.43" width="4.34" height="4.33" fill="#0EA4FF"/>
<rect x="512.92" y="121.43" width="4.34" height="4.33" fill="#2A70A4"/>
<rect x="516.46" y="121.43" width="4.34" height="4.33" fill="#1592E4"/>
<rect x="520.00" y="121.43" width="4.34" height="4.33" fill="#109AF2"/>
<rect x="523.54" y="121.43" width="4.34" height="4.33" fill="#1A89D6"/>
<rect x="527.08" y="121.43" width="4.34" height="4.33" fill="#109AF2"/>
<rect x="530.62" y="121.43" width="4.34" height="4.33" fill="#0F9FFB"/>
<rect x="534.16" y="121.43" width="3.54" height="4.33" fill="#46B8FF"/>
<rect x="371.32" y="124.96" width="3.54" height="4.33" fill="#7CC6FF"/>
<rect x="381.94" y="124.96" width="4.34" height="4.33" fill="#46B8FF"/>
<rect x="385.48" y="124.96" width="3.54" height="3.53" fill="#33B5FF"/>
<rect x="392.56" y="124.96" width="3.54" height="3.53" fill="#11A8FF"/>
<rect x="399.64" y="124.96" width="4.34" height="4.33" fill="#11ACFF"/>
<rect x="403.18" y="124.96" width="4.34" height="4.33" fill="#6BC1FF"/>
<rect x="406.72" y="124.96" width="4.34" height="4.33" fill="#29B3FF"/>
<rect x="410.26" y="124.96" width="4.34" height="4.33" fill="#11A8FF"/>
<rect x="413.80" y="124.96" width="4.34" height="4.33" fill="#11ACFF"/>
<rect x="417.34" y="124.96" width="4.34" height="4.33" fill="#11A8FF"/>
<rect x="420.88" y="124.96" width="4.34" height="4.33" fill="#0F9FFB"/>
<rect x="424.42" y="124.96" width="4.34" height="4.33" fill="#1592E4"/>
<rect x="427.96" y="124.96" width="4.34" height="4.33" fill="#0EA4FF"/>
<rect x="431.50" y="124.96" width="4.34" height="4.33" fill="#1E85CC"/>
<rect x="435.04" y="124.96" width="4.34" height="4.33" fill="#0F9FFB"/>
<rect x="438.58" y="124.96" width="4.34" height="4.33" fill="#1A89D6"/>
<rect x="442.12" y="124.96" width="4.34" height="4.33" fill="#11A8FF"/>
<rect x="445.66" y="124.96" width="4.34" height="4.33" fill="#0EA4FF"/>
<rect x="449.20" y="124.96" width="4.34" height="4.33" fill="#217FC1"/>
<rect x="452.74" y="124.96" width="4.34" height="4.33" fill="#0F9FFB"/>
<rect x="456.28" y="124.96" width="4.34" height="4.33" fill="#0F9FFB"/>
<rect x="459.82" y="124.96" width="4.34" height="4.33" fill="#11A8FF"/>
<rect x="463.36" y="124.96" width="4.34" height="4.33" fill="#1A89D6"/>
<rect x="466.90" y="124.96" width="4.34" height="4.33" fill="#1298ED"/>
<rect x="470.44" y="124.96" width="4.34" height="4.33" fill="#1592E4"/>
<rect x="473.98" y="124.96" width="4.34" height="4.33" fill="#227DBD"/>
<rect x="477.52" y="124.96" width="4.34" height="4.33" fill="#188CDA"/>
<rect x="481.06" y="124.96" width="4.34" height="4.33" fill="#188CDA"/>
<rect x="484.60" y="124.96" width="4.34" height="4.33" fill="#188CDA"/>
<rect x="488.14" y="124.96" width="4.34" height="4.33" fill="#1E85CC"/>
<rect x="491.68" y="124.96" width="4.34" height="4.33" fill="#1E85CC"/>
<rect x="495.22" y="124.96" width="4.34" height="4.33" fill="#1A89D6"/>
<rect x="498.76" y="124.96" width="4.34" height="4.33" fill="#1592E4"/>
<rect x="502.30" y="124.96" width="4.34" height="4.33" fill="#2677B3"/>
<rect x="505.84" y="124.96" width="4.34" height="4.33" fill="#1E85CC"/>
<rect x="509.38" y="124.96" width="4.34" height="4.33" fill="#1592E4"/>
<rect x="512.92" y="124.96" width="4.34" height="4.33" fill="#2677B3"/>
<rect x="516.46" y="124.96" width="4.34" height="4.33" fill="#188CDA"/>
<rect x="520.00" y="124.96" width="4.34" height="4.33" fill="#2972A8"/>
<rect x="523.54" y="124.96" width="4.34" height="4.33" fill="#1E85CC"/>
<rect x="527.08" y="124.96" width="4.34" height="4.33" fill="#217FC1"/>
<rect x="530.62" y="124.96" width="4.34" height="4.33" fill="#2A70A4"/>
<rect x="534.16" y="124.96" width="3.54" height="4.33" fill="#1592E4"/>
<rect x="371.32" y="128.49" width="4.34" height="3.53" fill="#7CC6FF"/>
<rect x="374.86" y="128.49" width="4.34" height="3.53" fill="#87CAFE"/>
<rect x="378.40" y="128.49" width="4.34" height="3.53" fill="#7CC6FF"/>
<rect x="381.94" y="128.49" width="3.54" height="3.53" fill="#82C8FF"/>
<rect x="389.02" y="128.49" width="3.54" height="4.33" fill="#6BC1FF"/>
<rect x="399.64" y="128.49" width="4.34" height="4.33" fill="#77C4FF"/>
<rect x="403.18" y="128.49" width="4.34" height="4.33" fill="#64BFFF"/>
<rect x="406.72" y="128.49" width="4.34" height="4.33" fill="#46B8FF"/>
<rect x="410.26" y="128.49" width="4.34" height="4.33" fill="#1298ED"/>
<rect x="413.80" y="128.49" width="4.34" height="4.33" fill="#29B3FF"/>
<rect x="417.34" y="128.49" width="4.34" height="4.33" fill="#1298ED"/>
<rect x="420.88" y="128.49" width="4.34" height="4.33" fill="#46B8FF"/>
<rect x="424.42" y="128.49" width="4.34" height="4.33" fill="#1298ED"/>
<rect x="427.96" y="128.49" width="4.34" height="4.33" fill="#0F9FFB"/>
<rect x="431.50" y="128.49" width="4.34" height="4.33" fill="#1298ED"/>
<rect x="435.04" y="128.49" width="4.34" height="4.33" fill="#11ACFF"/>
<rect x="438.58" y="128.49" width="4.34" height="4.33" fill="#0F9FFB"/>
<rect x="442.12" y="128.49" width="4.34" height="4.33" fill="#11A8FF"/>
<rect x="445.66" y="128.49" width="4.34" height="4.33" fill="#0F9FFB"/>
<rect x="449.20" y="128.49" width="4.34" height="4.33" fill="#188CDA"/>
<rect x="452.74" y="128.49" width="4.34" height="4.33" fill="#1298ED"/>
<rect x="456.28" y="128.49" width="4.34" height="4.33" fill="#11A8FF"/>
<rect x="459.82" y="128.49" width="4.34" height="4.33" fill="#227DBD"/>
<rect x="463.36" y="128.49" width="4.34" height="4.33" fill="#217FC1"/>
<rect x="466.90" y="128.49" width="4.34" height="4.33" fill="#109AF2"/>
<rect x="470.44" y="128.49" width="4.34" height="4.33" fill="#188CDA"/>
<rect x="473.98" y="128.49" width="4.34" height="4.33" fill="#1298ED"/>
<rect x="477.52" y="128.49" width="4.34" height="4.33" fill="#217FC1"/>
<rect x="481.06" y="128.49" width="4.34" height="4.33" fill="#1A89D6"/>
<rect x="484.60" y="128.49" width="4.34" height="4.33" fill="#11ACFF"/>
<rect x="488.14" y="128.49" width="4.34" height="4.33" fill="#2A70A4"/>
<rect x="491.68" y="128.49" width="4.34" height="4.33" fill="#2972A8"/>
<rect x="495.22" y="128.49" width="4.34" height="4.33" fill="#1E85CC"/>
<rect x="498.76" y="128.49" width="4.34" height="4.33" fill="#2774AD"/>
<rect x="502.30" y="128.49" width="4.34" height="4.33" fill="#1E85CC"/>
<rect x="505.84" y="128.49" width="4.34" height="4.33" fill="#2E6894"/>
<rect x="509.38" y="128.49" width="4.34" height="4.33" fill="#2774AD"/>
<rect x="512.92" y="128.49" width="4.34" height="4.33" fill="#2774AD"/>
<rect x="516.46" y="128.49" width="4.34" height="4.33" fill="#1394E9"/>
<rect x="520.00" y="128.49" width="4.34" height="4.33" fill="#109AF2"/>
<rect x="523.54" y="128.49" width="4.34" height="4.33" fill="#0F9FFB"/>
<rect x="527.08" y="128.49" width="4.34" height="4.33" fill="#1298ED"/>
<rect x="530.62" y="128.49" width="4.34" height="4.33" fill="#1592E4"/>
<rect x="534.16" y="128.49" width="3.54" height="4.33" fill="#29B3FF"/>
<rect x="385.48" y="132.02" width="4.34" height="4.33" fill="#6BC1FF"/>
<rect x="389.02" y="132.02" width="4.34" height="4.33" fill="#33B5FF"/>
<rect x="392.56" y="132.02" width="3.54" height="4.33" fill="#64BFFF"/>
<rect x="399.64" y="132.02" width="4.34" height="4.33" fill="#33B5FF"/>
<rect x="403.18" y="132.02" width="4.34" height="4.33" fill="#11ACFF"/>
<rect x="406.72" y="132.02" width="4.34" height="4.33" fill="#11A8FF"/>
<rect x="410.26" y="132.02" width="4.34" height="4.33" fill="#11A8FF"/>
<rect x="413.80" y="132.02" width="4.34" height="4.33" fill="#1A89D6"/>
<rect x="417.34" y="132.02" width="4.34" height="4.33" fill="#11A8FF"/>
<rect x="420.88" y="132.02" width="4.34" height="3.53" fill="#56BBFF"/>
<rect x="424.42" y="132.02" width="4.34" height="4.33" fill="#56BBFF"/>
<rect x="427.96" y="132.02" width="4.34" height="4.33" fill="#15B1FF"/>
<rect x="431.50" y="132.02" width="4.34" height="4.33" fill="#1592E4"/>
<rect x="435.04" y="132.02" width="4.34" height="4.33" fill="#109AF2"/>
<rect x="438.58" y="132.02" width="4.34" height="4.33" fill="#217FC1"/>
<rect x="442.12" y="132.02" width="4.34" height="4.33" fill="#1E85CC"/>
<rect x="445.66" y="132.02" width="4.34" height="4.33" fill="#33B5FF"/>
<rect x="449.20" y="132.02" width="4.34" height="4.33" fill="#29B3FF"/>
<rect x="452.74" y="132.02" width="4.34" height="4.33" fill="#188CDA"/>
<rect x="456.28" y="132.02" width="4.34" height="4.33" fill="#1298ED"/>
<rect x="459.82" y="132.02" width="4.34" height="4.33" fill="#2677B3"/>
<rect x="463.36" y="132.02" width="4.34" height="4.33" fill="#1592E4"/>
<rect x="466.90" y="132.02" width="4.34" height="4.33" fill="#217FC1"/>
<rect x="470.44" y="132.02" width="4.34" height="4.33" fill="#0EA4FF"/>
<rect x="473.98" y="132.02" width="4.34" height="4.33" fill="#11A8FF"/>
<rect x="477.52" y="132.02" width="4.34" height="4.33" fill="#109AF2"/>
<rect x="481.06" y="132.02" width="4.34" height="4.33" fill="#11ACFF"/>
<rect x="484.60" y="132.02" width="4.34" height="4.33" fill="#1E85CC"/>
<rect x="488.14" y="132.02" width="4.34" height="4.33" fill="#2972A8"/>
<rect x="491.68" y="132.02" width="4.34" height="4.33" fill="#315977"/>
<rect x="495.22" y="132.02" width="4.34" height="4.33" fill="#109AF2"/>
<rect x="498.76" y="132.02" width="4.34" height="4.33" fill="#2A70A4"/>
<rect x="502.30" y="132.02" width="4.34" height="4.33" fill="#109AF2"/>
<rect x="505.84" y="132.02" width="4.34" height="4.33" fill="#2A70A4"/>
<rect x="509.38" y="132.02" width="4.34" height="4.33" fill="#315977"/>
<rect x="512.92" y="132.02" width="4.34" height="4.33" fill="#11A8FF"/>
<rect x="516.46" y="132.02" width="4.34" height="4.33" fill="#2A70A4"/>
<rect x="520.00" y="132.02" width="4.34" height="4.33" fill="#1E85CC"/>
<rect x="523.54" y="132.02" width="4.34" height="4.33" fill="#2A70A4"/>
<rect x="527.08" y="132.02" width="4.34" height="4.33" fill="#1E85CC"/>
<rect x="530.62" y="132.02" width="4.34" height="4.33" fill="#29B3FF"/>
<rect x="534.16" y="132.02" width="3.54" height="4.33" fill="#15B1FF"/>
<rect x="374.86" y="135.55" width="3.54" height="3.53" fill="#7CC6FF"/>
<rect x="385.48" y="135.55" width="4.34" height="4.33" fill="#87CAFE"/>
<rect x="389.02" y="135.55" width="4.34" height="4.33" fill="#33B5FF"/>
<rect x="392.56" y="135.55" width="4.34" height="4.33" fill="#33B5FF"/>
<rect x="396.10" y="135.55" width="4.34" height="4.33" fill="#6BC1FF"/>
<rect x="399.64" y="135.55" width="4.34" height="4.33" fill="#33B5FF"/>
<rect x="403.18" y="135.55" width="4.34" height="4.33" fill="#29B3FF"/>
<rect x="406.72" y="135.55" width="4.34" height="3.53" fill="#11ACFF"/>
<rect x="410.26" y="135.55" width="4.34" height="4.33" fill="#46B8FF"/>
<rect x="413.80" y="135.55" width="4.34" height="4.33" fill="#29B3FF"/>
<rect x="417.34" y="135.55" width="3.54" height="4.33" fill="#46B8FF"/>
<rect x="424.42" y="135.55" width="4.34" height="4.33" fill="#0F9FFB"/>
<rect x="427.96" y="135.55" width="4.34" height="4.33" fill="#0EA4FF"/>
<rect x="431.50" y="135.55" width="4.34" height="4.33" fill="#33B5FF"/>
<rect x="435.04" y="135.55" width="4.34" height="4.33" fill="#1592E4"/>
<rect x="438.58" y="135.55" width="4.34" height="4.33" fill="#64BFFF"/>
<rect x="442.12" y="135.55" width="4.34" height="4.33" fill="#11ACFF"/>
<rect x="445.66" y="135.55" width="4.34" height="4.33" fill="#11A8FF"/>
<rect x="449.20" y="135.55" width="4.34" height="4.33" fill="#0F9FFB"/>
<rect x="452.74" y="135.55" width="4.34" height="4.33" fill="#46B8FF"/>
<rect x="456.28" y="135.55" width="4.34" height="4.33" fill="#1A89D6"/>
<rect x="459.82" y="135.55" width="4.34" height="4.33" fill="#1298ED"/>
<rect x="463.36" y="135.55" width="4.34" height="4.33" fill="#1A89D6"/>
<rect x="466.90" y="135.55" width="4.34" height="4.33" fill="#0F9FFB"/>
<rect x="470.44" y="135.55" width="4.34" height="4.33" fill="#0F9FFB"/>
<rect x="473.98" y="135.55" width="4.34" height="4.33" fill="#2677B3"/>
<rect x="477.52" y="135.55" width="4.34" height="4.33" fill="#1A89D6"/>
<rect x="481.06" y="135.55" width="4.34" height="4.33" fill="#188CDA"/>
<rect x="484.60" y="135.55" width="4.34" height="4.33" fill="#2A70A4"/>
<rect x="488.14" y="135.55" width="4.34" height="4.33" fill="#2774AD"/>
<rect x="491.68" y="135.55" width="4.34" height="4.33" fill="#2A70A4"/>
<rect x="495.22" y="135.55" width="4.34" height="4.33" fill="#15B1FF"/>
<rect x="498.76" y="135.55" width="4.34" height="4.33" fill="#2E6894"/>
<rect x="502.30" y="135.55" width="4.34" height="4.33" fill="#315977"/>
<rect x="505.84" y="135.55" width="4.34" height="4.33" fill="#315977"/>
<rect x="509.38" y="135.55" width="4.34" height="4.33" fill="#2F6185"/>
<rect x="512.92" y="135.55" width="4.34" height="4.33" fill="#2A70A4"/>
<rect x="516.46" y="135.55" width="4.34" height="4.33" fill="#2774AD"/>
<rect x="520.00" y="135.55" width="4.34" height="4.33" fill="#2E6894"/>
<rect x="523.54" y="135.55" width="4.34" height="4.33" fill="#2F6185"/>
<rect x="527.08" y="135.55" width="4.34" height="4.33" fill="#2774AD"/>
<rect x="530.62" y="135.55" width="4.34" height="4.33" fill="#1E85CC"/>
<rect x="534.16" y="135.55" width="3.54" height="4.33" fill="#11ACFF"/>
<rect x="378.40" y="139.08" width="4.34" height="4.33" fill="#87CAFE"/>
<rect x="381.94" y="139.08" width="4.34" height="3.53" fill="#87CAFE"/>
<rect x="385.48" y="139.08" width="4.34" height="4.33" fill="#4EB9FF"/>
<rect x="389.02" y="139.08" width="4.34" height="3.53" fill="#64BFFF"/>
<rect x="392.56" y="139.08" width="4.34" height="4.33" fill="#29B3FF"/>
<rect x="396.10" y="139.08" width="4.34" height="4.33" fill="#77C4FF"/>
<rect x="399.64" y="139.08" width="4.34" height="4.33" fill="#0EA4FF"/>
<rect x="403.18" y="139.08" width="3.54" height="4.33" fill="#33B5FF"/>
<rect x="410.26" y="139.08" width="4.34" height="4.33" fill="#11ACFF"/>
<rect x="413.80" y="139.08" width="4.34" height="4.33" fill="#0EA4FF"/>
<rect x="417.34" y="139.08" width="4.34" height="4.33" fill="#0EA4FF"/>
<rect x="420.88" y="139.08" width="4.34" height="4.33" fill="#1298ED"/>
<rect x="424.42" y="139.08" width="4.34" height="4.33" fill="#33B5FF"/>
<rect x="427.96" y="139.08" width="4.34" height="4.33" fill="#109AF2"/>
<rect x="431.50" y="139.08" width="4.34" height="4.33" fill="#1592E4"/>
<rect x="435.04" y="139.08" width="4.34" height="4.33" fill="#15B1FF"/>
<rect x="438.58" y="139.08" width="4.34" height="4.33" fill="#1298ED"/>
<rect x="442.12" y="139.08" width="4.34" height="4.33" fill="#1A89D6"/>
<rect x="445.66" y="139.08" width="4.34" height="4.33" fill="#109AF2"/>
<rect x="449.20" y="139.08" width="4.34" height="4.33" fill="#1A89D6"/>
<rect x="452.74" y="139.08" width="4.34" height="4.33" fill="#188CDA"/>
<rect x="456.28" y="139.08" width="4.34" height="4.33" fill="#29B3FF"/>
<rect x="459.82" y="139.08" width="4.34" height="4.33" fill="#227DBD"/>
<rect x="463.36" y="139.08" width="4.34" height="4.33" fill="#1592E4"/>
<rect x="466.90" y="139.08" width="4.34" height="4.33" fill="#109AF2"/>
<rect x="470.44" y="139.08" width="4.34" height="4.33" fill="#1E85CC"/>
<rect x="473.98" y="139.08" width="4.34" height="4.33" fill="#1A89D6"/>
<rect x="477.52" y="139.08" width="4.34" height="4.33" fill="#217FC1"/>
<rect x="481.06" y="139.08" width="4.34" height="4.33" fill="#217FC1"/>
<rect x="484.60" y="139.08" width="4.34" height="4.33" fill="#2F6185"/>
<rect x="488.14" y="139.08" width="4.34" height="4.33" fill="#2A70A4"/>
<rect x="491.68" y="139.08" width="4.34" height="4.33" fill="#2774AD"/>
<rect x="495.22" y="139.08" width="4.34" height="4.33" fill="#109AF2"/>
<rect x="498.76" y="139.08" width="4.34" height="4.33" fill="#2A70A4"/>
<rect x="502.30" y="139.08" width="4.34" height="4.33" fill="#315977"/>
<rect x="505.84" y="139.08" width="4.34" height="4.33" fill="#315977"/>
<rect x="509.38" y="139.08" width="4.34" height="4.33" fill="#315977"/>
<rect x="512.92" y="139.08" width="4.34" height="4.33" fill="#1E85CC"/>
<rect x="516.46" y="139.08" width="4.34" height="4.33" fill="#227DBD"/>
<rect x="520.00" y="139.08" width="4.34" height="4.33" fill="#0FA1FF"/>
<rect x="523.54" y="139.08" width="4.34" height="4.33" fill="#1E85CC"/>
<rect x="527.08" y="139.08" width="4.34" height="4.33" fill="#11A8FF"/>
<rect x="530.62" y="139.08" width="4.34" height="4.33" fill="#188CDA"/>
<rect x="534.16" y="139.08" width="3.54" height="4.33" fill="#2677B3"/>
<rect x="374.86" y="142.61" width="4.34" height="3.53" fill="#7CC6FF"/>
<rect x="378.40" y="142.61" width="3.54" height="4.33" fill="#87CAFE"/>
<rect x="385.48" y="142.61" width="3.54" height="4.33" fill="#71C3FF"/>
<rect x="392.56" y="142.61" width="4.34" height="4.33" fill="#29B3FF"/>
<rect x="396.10" y="142.61" width="4.34" height="4.33" fill="#0EA4FF"/>
<rect x="399.64" y="142.61" width="4.34" height="4.33" fill="#56BBFF"/>
<rect x="403.18" y="142.61" width="4.34" height="4.33" fill="#29B3FF"/>
<rect x="406.72" y="142.61" width="4.34" height="4.33" fill="#0F9FFB"/>
<rect x="410.26" y="142.61" width="4.34" height="4.33" fill="#0EA4FF"/>
<rect x="413.80" y="142.61" width="4.34" height="4.33" fill="#15B1FF"/>
<rect x="417.34" y="142.61" width="4.34" height="4.33" fill="#29B3FF"/>
<rect x="420.88" y="142.61" width="4.34" height="4.33" fill="#15B1FF"/>
<rect x="424.42" y="142.61" width="4.34" height="4.33" fill="#29B3FF"/>
<rect x="427.96" y="142.61" width="4.34" height="4.33" fill="#109AF2"/>
<rect x="431.50" y="142.61" width="4.34" height="4.33" fill="#0EA4FF"/>
<rect x="435.04" y="142.61" width="4.34" height="4.33" fill="#1298ED"/>
<rect x="438.58" y="142.61" width="4.34" height="4.33" fill="#0F9FFB"/>
<rect x="442.12" y="142.61" width="4.34" height="4.33" fill="#0F9FFB"/>
<rect x="445.66" y="142.61" width="4.34" height="4.33" fill="#1298ED"/>
<rect x="449.20" y="142.61" width="4.34" height="4.33" fill="#11A8FF"/>
<rect x="452.74" y="142.61" width="4.34" height="4.33" fill="#1592E4"/>
<rect x="456.28" y="142.61" width="4.34" height="4.33" fill="#217FC1"/>
<rect x="459.82" y="142.61" width="4.34" height="4.33" fill="#1298ED"/>
<rect x="463.36" y="142.61" width="4.34" height="4.33" fill="#1298ED"/>
<rect x="466.90" y="142.61" width="4.34" height="4.33" fill="#1592E4"/>
<rect x="470.44" y="142.61" width="4.34" height="4.33" fill="#1298ED"/>
<rect x="473.98" y="142.61" width="4.34" height="4.33" fill="#217FC1"/>
<rect x="477.52" y="142.61" width="4.34" height="4.33" fill="#11ACFF"/>
<rect x="481.06" y="142.61" width="4.34" height="4.33" fill="#2C6A99"/>
<rect x="484.60" y="142.61" width="4.34" height="4.33" fill="#11A8FF"/>
<rect x="488.14" y="142.61" width="4.34" height="4.33" fill="#2774AD"/>
<rect x="491.68" y="142.61" width="4.34" height="4.33" fill="#2F6185"/>
<rect x="495.22" y="142.61" width="4.34" height="4.33" fill="#2774AD"/>
<rect x="498.76" y="142.61" width="4.34" height="4.33" fill="#188CDA"/>
<rect x="502.30" y="142.61" width="4.34" height="4.33" fill="#315977"/>
<rect x="505.84" y="142.61" width="4.34" height="4.33" fill="#227DBD"/>
<rect x="509.38" y="142.61" width="4.34" height="4.33" fill="#315977"/>
<rect x="512.92" y="142.61" width="4.34" height="4.33" fill="#315977"/>
<rect x="516.46" y="142.61" width="4.34" height="4.33" fill="#1E85CC"/>
<rect x="520.00" y="142.61" width="4.34" height="4.33" fill="#2774AD"/>
<rect x="523.54" y="142.61" width="4.34" height="4.33" fill="#2F6185"/>
<rect x="527.08" y="142.61" width="4.34" height="4.33" fill="#1E85CC"/>
<rect x="530.62" y="142.61" width="4.34" height="4.33" fill="#315977"/>
<rect x="534.16" y="142.61" width="3.54" height="4.33" fill="#11ACFF"/>
<rect x="371.32" y="146.14" width="3.54" height="3.53" fill="#87CAFE"/>
<rect x="378.40" y="146.14" width="3.54" height="4.33" fill="#87CAFE"/>
<rect x="385.48" y="146.14" width="4.34" height="4.33" fill="#82C8FF"/>
<rect x="389.02" y="146.14" width="4.34" height="3.53" fill="#77C4FF"/>
<rect x="392.56" y="146.14" width="4.34" height="4.33" fill="#33B5FF"/>
<rect x="396.10" y="146.14" width="4.34" height="4.33" fill="#29B3FF"/>
<rect x="399.64" y="146.14" width="4.34" height="4.33" fill="#56BBFF"/>
<rect x="403.18" y="146.14" width="4.34" height="4.33" fill="#11A8FF"/>
<rect x="406.72" y="146.14" width="4.34" height="3.53" fill="#15B1FF"/>
<rect x="410.26" y="146.14" width="4.34" height="4.33" fill="#56BBFF"/>
<rect x="413.80" y="146.14" width="4.34" height="4.33" fill="#33B5FF"/>
<rect x="417.34" y="146.14" width="4.34" height="4.33" fill="#29B3FF"/>
<rect x="420.88" y="146.14" width="4.34" height="4.33" fill="#29B3FF"/>
<rect x="424.42" y="146.14" width="4.34" height="4.33" fill="#29B3FF"/>
<rect x="427.96" y="146.14" width="4.34" height="4.33" fill="#15B1FF"/>
<rect x="431.50" y="146.14" width="4.34" height="4.33" fill="#188CDA"/>
<rect x="435.04" y="146.14" width="4.34" height="4.33" fill="#0F9FFB"/>
<rect x="438.58" y="146.14" width="4.34" height="4.33" fill="#29B3FF"/>
<rect x="442.12" y="146.14" width="4.34" height="4.33" fill="#11ACFF"/>
<rect x="445.66" y="146.14" width="4.34" height="4.33" fill="#11A8FF"/>
<rect x="449.20" y="146.14" width="4.34" height="4.33" fill="#11A8FF"/>
<rect x="452.74" y="146.14" width="4.34" height="4.33" fill="#109AF2"/>
<rect x="456.28" y="146.14" width="4.34" height="4.33" fill="#109AF2"/>
<rect x="459.82" y="146.14" width="4.34" height="4.33" fill="#29B3FF"/>
<rect x="463.36" y="146.14" width="4.34" height="4.33" fill="#0F9FFB"/>
<rect x="466.90" y="146.14" width="4.34" height="4.33" fill="#1A89D6"/>
<rect x="470.44" y="146.14" width="4.34" height="4.33" fill="#2677B3"/>
<rect x="473.98" y="146.14" width="4.34" height="4.33" fill="#1A89D6"/>
<rect x="477.52" y="146.14" width="4.34" height="4.33" fill="#1592E4"/>
<rect x="481.06" y="146.14" width="4.34" height="4.33" fill="#315977"/>
<rect x="484.60" y="146.14" width="4.34" height="4.33" fill="#2A70A4"/>
<rect x="488.14" y="146.14" width="4.34" height="4.33" fill="#1E85CC"/>
<rect x="491.68" y="146.14" width="4.34" height="4.33" fill="#2E6894"/>
<rect x="495.22" y="146.14" width="4.34" height="4.33" fill="#315977"/>
<rect x="498.76" y="146.14" width="4.34" height="4.33" fill="#227DBD"/>
<rect x="502.30" y="146.14" width="4.34" height="4.33" fill="#2F6185"/>
<rect x="505.84" y="146.14" width="4.34" height="4.33" fill="#315977"/>
<rect x="509.38" y="146.14" width="4.34" height="4.33" fill="#315977"/>
<rect x="512.92" y="146.14" width="4.34" height="4.33" fill="#2F6185"/>
<rect x="516.46" y="146.14" width="4.34" height="4.33" fill="#2F6185"/>
<rect x="520.00" y="146.14" width="4.34" height="4.33" fill="#315977"/>
<rect x="523.54" y="146.14" width="4.34" height="4.33" fill="#188CDA"/>
<rect x="527.08" y="146.14" width="4.34" height="4.33" fill="#2F6185"/>
<rect x="530.62" y="146.14" width="4.34" height="4.33" fill="#217FC1"/>
<rect x="534.16" y="146.14" width="3.54" height="4.33" fill="#46B8FF"/>
<rect x="374.86" y="149.67" width="4.34" height="3.53" fill="#71C3FF"/>
<rect x="378.40" y="149.67" width="3.54" height="3.53" fill="#87CAFE"/>
<rect x="385.48" y="149.67" width="3.54" height="4.33" fill="#87CAFE"/>
<rect x="392.56" y="149.67" width="4.34" height="4.33" fill="#87CAFE"/>
<rect x="396.10" y="149.67" width="4.34" height="3.53" fill="#6BC1FF"/>
<rect x="399.64" y="149.67" width="4.34" height="4.33" fill="#77C4FF"/>
<rect x="403.18" y="149.67" width="3.54" height="3.53" fill="#33B5FF"/>
<rect x="410.26" y="149.67" width="4.34" height="4.33" fill="#11A8FF"/>
<rect x="413.80" y="149.67" width="4.34" height="4.33" fill="#29B3FF"/>
<rect x="417.34" y="149.67" width="4.34" height="4.33" fill="#56BBFF"/>
<rect x="420.88" y="149.67" width="4.34" height="4.33" fill="#109AF2"/>
<rect x="424.42" y="149.67" width="4.34" height="4.33" fill="#33B5FF"/>
<rect x="427.96" y="149.67" width="4.34" height="4.33" fill="#15B1FF"/>
<rect x="431.50" y="149.67" width="4.34" height="4.33" fill="#0F9FFB"/>
<rect x="435.04" y="149.67" width="4.34" height="4.33" fill="#0EA4FF"/>
<rect x="438.58" y="149.67" width="4.34" height="4.33" fill="#109AF2"/>
<rect x="442.12" y="149.67" width="4.34" height="4.33" fill="#1592E4"/>
<rect x="445.66" y="149.67" width="4.34" height="4.33" fill="#1298ED"/>
<rect x="449.20" y="149.67" width="4.34" height="4.33" fill="#6BC1FF"/>
<rect x="452.74" y="149.67" width="4.34" height="4.33" fill="#188CDA"/>
<rect x="456.28" y="149.67" width="4.34" height="4.33" fill="#0F9FFB"/>
<rect x="459.82" y="149.67" width="4.34" height="4.33" fill="#217FC1"/>
<rect x="463.36" y="149.67" width="4.34" height="4.33" fill="#227DBD"/>
<rect x="466.90" y="149.67" width="4.34" height="4.33" fill="#15B1FF"/>
<rect x="470.44" y="149.67" width="4.34" height="4.33" fill="#11ACFF"/>
<rect x="473.98" y="149.67" width="4.34" height="4.33" fill="#109AF2"/>
<rect x="477.52" y="149.67" width="4.34" height="4.33" fill="#1E85CC"/>
<rect x="481.06" y="149.67" width="4.34" height="4.33" fill="#188CDA"/>
<rect x="484.60" y="149.67" width="4.34" height="4.33" fill="#2A70A4"/>
<rect x="488.14" y="149.67" width="4.34" height="4.33" fill="#2E6894"/>
<rect x="491.68" y="149.67" width="4.34" height="4.33" fill="#1E85CC"/>
<rect x="495.22" y="149.67" width="4.34" height="4.33" fill="#315977"/>
<rect x="498.76" y="149.67" width="4.34" height="4.33" fill="#315977"/>
<rect x="502.30" y="149.67" width="4.34" height="4.33" fill="#2A70A4"/>
<rect x="505.84" y="149.67" width="4.34" height="4.33" fill="#2E6894"/>
<rect x="509.38" y="149.67" width="4.34" height="4.33" fill="#2F6185"/>
<rect x="512.92" y="149.67" width="4.34" height="4.33" fill="#315977"/>
<rect x="516.46" y="149.67" width="4.34" height="4.33" fill="#315977"/>
<rect x="520.00" y="149.67" width="4.34" height="4.33" fill="#2774AD"/>
<rect x="523.54" y="149.67" width="4.34" height="4.33" fill="#2F6185"/>
<rect x="527.08" y="149.67" width="4.34" height="4.33" fill="#2A70A4"/>
<rect x="530.62" y="149.67" width="4.34" height="4.33" fill="#2677B3"/>
<rect x="534.16" y="149.67" width="3.54" height="4.33" fill="#217FC1"/>
<rect x="381.94" y="153.20" width="4.34" height="4.33" fill="#7CC6FF"/>
<rect x="385.48" y="153.20" width="4.34" height="4.33" fill="#7CC6FF"/>
<rect x="389.02" y="153.20" width="4.34" height="4.33" fill="#7CC6FF"/>
<rect x="392.56" y="153.20" width="3.54" height="4.33" fill="#71C3FF"/>
<rect x="399.64" y="153.20" width="3.54" height="4.33" fill="#87CAFE"/>
<rect x="406.72" y="153.20" width="4.34" height="4.33" fill="#33B5FF"/>
<rect x="410.26" y="153.20" width="4.34" height="4.33" fill="#56BBFF"/>
<rect x="413.80" y="153.20" width="4.34" height="4.33" fill="#29B3FF"/>
<rect x="417.34" y="153.20" width="4.34" height="4.33" fill="#29B3FF"/>
<rect x="420.88" y="153.20" width="4.34" height="4.33" fill="#15B1FF"/>
<rect x="424.42" y="153.20" width="4.34" height="4.33" fill="#29B3FF"/>
<rect x="427.96" y="153.20" width="4.34" height="4.33" fill="#1592E4"/>
<rect x="431.50" y="153.20" width="4.34" height="4.33" fill="#0F9FFB"/>
<rect x="435.04" y="153.20" width="4.34" height="4.33" fill="#64BFFF"/>
<rect x="438.58" y="153.20" width="4.34" height="4.33" fill="#1298ED"/>
<rect x="442.12" y="153.20" width="4.34" height="4.33" fill="#2E668F"/>
<rect x="445.66" y="153.20" width="4.34" height="4.33" fill="#1A89D6"/>
<rect x="449.20" y="153.20" width="4.34" height="4.33" fill="#227DBD"/>
<rect x="452.74" y="153.20" width="4.34" height="4.33" fill="#2677B3"/>
<rect x="456.28" y="153.20" width="4.34" height="4.33" fill="#109AF2"/>
<rect x="459.82" y="153.20" width="4.34" height="4.33" fill="#11ACFF"/>
<rect x="463.36" y="153.20" width="4.34" height="4.33" fill="#2C6A99"/>
<rect x="466.90" y="153.20" width="4.34" height="4.33" fill="#1298ED"/>
<rect x="470.44" y="153.20" width="4.34" height="4.33" fill="#1592E4"/>
<rect x="473.98" y="153.20" width="4.34" height="4.33" fill="#1592E4"/>
<rect x="477.52" y="153.20" width="4.34" height="4.33" fill="#315977"/>
<rect x="481.06" y="153.20" width="4.34" height="4.33" fill="#15B1FF"/>
<rect x="484.60" y="153.20" width="4.34" height="4.33" fill="#1E85CC"/>
<rect x="488.14" y="153.20" width="4.34" height="4.33" fill="#188CDA"/>
<rect x="491.68" y="153.20" width="4.34" height="4.33" fill="#227DBD"/>
<rect x="495.22" y="153.20" width="4.34" height="4.33" fill="#2774AD"/>
<rect x="498.76" y="153.20" width="4.34" height="4.33" fill="#2E6894"/>
<rect x="502.30" y="153.20" width="4.34" height="4.33" fill="#315977"/>
<rect x="505.84" y="153.20" width="4.34" height="4.33" fill="#2774AD"/>
<rect x="509.38" y="153.20" width="4.34" height="4.33" fill="#315977"/>
<rect x="512.92" y="153.20" width="4.34" height="4.33" fill="#315977"/>
<rect x="516.46" y="153.20" width="4.34" height="4.33" fill="#2F6185"/>
<rect x="520.00" y="153.20" width="4.34" height="4.33" fill="#315977"/>
<rect x="523.54" y="153.20" width="4.34" height="4.33" fill="#2F6185"/>
<rect x="527.08" y="153.20" width="4.34" height="4.33" fill="#2774AD"/>
<rect x="530.62" y="153.20" width="4.34" height="4.33" fill="#2A70A4"/>
<rect x="534.16" y="153.20" width="3.54" height="4.33" fill="#11ACFF"/>
<rect x="378.40" y="156.73" width="4.34" height="3.53" fill="#87CAFE"/>
<rect x="381.94" y="156.73" width="4.34" height="3.53" fill="#87CAFE"/>
<rect x="385.48" y="156.73" width="4.34" height="4.33" fill="#3EB6FF"/>
<rect x="389.02" y="156.73" width="4.34" height="3.53" fill="#3EB6FF"/>
<rect x="392.56" y="156.73" width="4.34" height="3.53" fill="#64BFFF"/>
<rect x="396.10" y="156.73" width="4.34" height="4.33" fill="#56BBFF"/>
<rect x="399.64" y="156.73" width="4.34" height="3.53" fill="#56BBFF"/>
<rect x="403.18" y="156.73" width="4.34" height="4.33" fill="#15B1FF"/>
<rect x="406.72" y="156.73" width="4.34" height="3.53" fill="#64BFFF"/>
<rect x="410.26" y="156.73" width="4.34" height="3.53" fill="#46B8FF"/>
<rect x="413.80" y="156.73" width="4.34" height="4.33" fill="#33B5FF"/>
<rect x="417.34" y="156.73" width="4.34" height="4.33" fill="#11ACFF"/>
<rect x="420.88" y="156.73" width="4.34" height="4.33" fill="#29B3FF"/>
<rect x="424.42" y="156.73" width="4.34" height="4.33" fill="#6BC1FF"/>
<rect x="427.96" y="156.73" width="4.34" height="4.33" fill="#11ACFF"/>
<rect x="431.50" y="156.73" width="4.34" height="4.33" fill="#33B5FF"/>
<rect x="435.04" y="156.73" width="4.34" height="4.33" fill="#1298ED"/>
<rect x="438.58" y="156.73" width="4.34" height="4.33" fill="#1E85CC"/>
<rect x="442.12" y="156.73" width="4.34" height="4.33" fill="#188CDA"/>
<rect x="445.66" y="156.73" width="4.34" height="4.33" fill="#109AF2"/>
<rect x="449.20" y="156.73" width="4.34" height="4.33" fill="#1298ED"/>
<rect x="452.74" y="156.73" width="4.34" height="4.33" fill="#109AF2"/>
<rect x="456.28" y="156.73" width="4.34" height="4.33" fill="#1298ED"/>
<rect x="459.82" y="156.73" width="4.34" height="4.33" fill="#1592E4"/>
<rect x="463.36" y="156.73" width="4.34" height="4.33" fill="#2A70A4"/>
<rect x="466.90" y="156.73" width="4.34" height="4.33" fill="#1592E4"/>
<rect x="470.44" y="156.73" width="4.34" height="4.33" fill="#2C6A99"/>
<rect x="473.98" y="156.73" width="4.34" height="4.33" fill="#315977"/>
<rect x="477.52" y="156.73" width="4.34" height="4.33" fill="#2A70A4"/>
<rect x="481.06" y="156.73" width="4.34" height="4.33" fill="#315977"/>
<rect x="484.60" y="156.73" width="4.34" height="4.33" fill="#315977"/>
<rect x="488.14" y="156.73" width="4.34" height="4.33" fill="#2A70A4"/>
<rect x="491.68" y="156.73" width="4.34" height="4.33" fill="#227DBD"/>
<rect x="495.22" y="156.73" width="4.34" height="4.33" fill="#2A70A4"/>
<rect x="498.76" y="156.73" width="4.34" height="4.33" fill="#315977"/>
<rect x="502.30" y="156.73" width="4.34" height="4.33" fill="#2E6894"/>
<rect x="505.84" y="156.73" width="4.34" height="4.33" fill="#2774AD"/>
<rect x="509.38" y="156.73" width="4.34" height="4.33" fill="#2F6185"/>
<rect x="512.92" y="156.73" width="4.34" height="4.33" fill="#2A70A4"/>
<rect x="516.46" y="156.73" width="4.34" height="4.33" fill="#315977"/>
<rect x="520.00" y="156.73" width="4.34" height="4.33" fill="#315977"/>
<rect x="523.54" y="156.73" width="4.34" height="4.33" fill="#2A70A4"/>
<rect x="527.08" y="156.73" width="4.34" height="4.33" fill="#315977"/>
<rect x="530.62" y="156.73" width="4.34" height="4.33" fill="#11A8FF"/>
<rect x="534.16" y="156.73" width="3.54" height="4.33" fill="#2677B3"/>
<rect x="385.48" y="160.26" width="3.54" height="4.33" fill="#87CAFE"/>
<rect x="396.10" y="160.26" width="3.54" height="4.33" fill="#71C3FF"/>
<rect x="403.18" y="160.26" width="3.54" height="3.53" fill="#6BC1FF"/>
<rect x="413.80" y="160.26" width="4.34" height="4.33" fill="#77C4FF"/>
<rect x="417.34" y="160.26" width="4.34" height="4.33" fill="#0F9FFB"/>
<rect x="420.88" y="160.26" width="4.34" height="4.33" fill="#46B8FF"/>
<rect x="424.42" y="160.26" width="4.34" height="4.33" fill="#46B8FF"/>
<rect x="427.96" y="160.26" width="4.34" height="4.33" fill="#0F9FFB"/>
<rect x="431.50" y="160.26" width="4.34" height="4.33" fill="#1592E4"/>
<rect x="435.04" y="160.26" width="4.34" height="4.33" fill="#1298ED"/>
<rect x="438.58" y="160.26" width="4.34" height="4.33" fill="#1592E4"/>
<rect x="442.12" y="160.26" width="4.34" height="4.33" fill="#109AF2"/>
<rect x="445.66" y="160.26" width="4.34" height="4.33" fill="#217FC1"/>
<rect x="449.20" y="160.26" width="4.34" height="4.33" fill="#188CDA"/>
<rect x="452.74" y="160.26" width="4.34" height="4.33" fill="#1A89D6"/>
<rect x="456.28" y="160.26" width="4.34" height="4.33" fill="#0F9FFB"/>
<rect x="459.82" y="160.26" width="4.34" height="4.33" fill="#1E85CC"/>
<rect x="463.36" y="160.26" width="4.34" height="4.33" fill="#2677B3"/>
<rect x="466.90" y="160.26" width="4.34" height="4.33" fill="#0FA1FF"/>
<rect x="470.44" y="160.26" width="4.34" height="4.33" fill="#2E6894"/>
<rect x="473.98" y="160.26" width="4.34" height="4.33" fill="#1394E9"/>
<rect x="477.52" y="160.26" width="4.34" height="4.33" fill="#2F6185"/>
<rect x="481.06" y="160.26" width="4.34" height="4.33" fill="#2E6894"/>
<rect x="484.60" y="160.26" width="4.34" height="4.33" fill="#1E85CC"/>
<rect x="488.14" y="160.26" width="4.34" height="4.33" fill="#315977"/>
<rect x="491.68" y="160.26" width="4.34" height="4.33" fill="#315977"/>
<rect x="495.22" y="160.26" width="4.34" height="4.33" fill="#2774AD"/>
<rect x="498.76" y="160.26" width="4.34" height="4.33" fill="#315977"/>
<rect x="502.30" y="160.26" width="4.34" height="4.33" fill="#315977"/>
<rect x="505.84" y="160.26" width="4.34" height="4.33" fill="#2E6894"/>
<rect x="509.38" y="160.26" width="4.34" height="4.33" fill="#2E6894"/>
<rect x="512.92" y="160.26" width="4.34" height="4.33" fill="#315977"/>
<rect x="516.46" y="160.26" width="4.34" height="4.33" fill="#315977"/>
<rect x="520.00" y="160.26" width="4.34" height="4.33" fill="#2F6185"/>
<rect x="523.54" y="160.26" width="4.34" height="4.33" fill="#2F6185"/>
<rect x="527.08" y="160.26" width="4.34" height="4.33" fill="#315977"/>
<rect x="530.62" y="160.26" width="4.34" height="4.33" fill="#0FA1FF"/>
<rect x="534.16" y="160.26" width="3.54" height="4.33" fill="#29B3FF"/>
<rect x="385.48" y="163.79" width="4.34" height="3.53" fill="#7CC6FF"/>
<rect x="389.02" y="163.79" width="3.54" height="4.33" fill="#87CAFE"/>
<rect x="396.10" y="163.79" width="3.54" height="4.33" fill="#7CC6FF"/>
<rect x="413.80" y="163.79" width="4.34" height="3.53" fill="#29B3FF"/>
<rect x="417.34" y="163.79" width="4.34" height="4.33" fill="#64BFFF"/>
<rect x="420.88" y="163.79" width="4.34" height="4.33" fill="#29B3FF"/>
<rect x="424.42" y="163.79" width="4.34" height="4.33" fill="#11A8FF"/>
<rect x="427.96" y="163.79" width="4.34" height="4.33" fill="#11A8FF"/>
<rect x="431.50" y="163.79" width="4.34" height="4.33" fill="#0EA4FF"/>
<rect x="435.04" y="163.79" width="4.34" height="4.33" fill="#0EA4FF"/>
<rect x="438.58" y="163.79" width="4.34" height="4.33" fill="#2A70A4"/>
<rect x="442.12" y="163.79" width="4.34" height="4.33" fill="#188CDA"/>
<rect x="445.66" y="163.79" width="4.34" height="4.33" fill="#1592E4"/>
<rect x="449.20" y="163.79" width="4.34" height="4.33" fill="#109AF2"/>
<rect x="452.74" y="163.79" width="4.34" height="4.33" fill="#1A89D6"/>
<rect x="456.28" y="163.79" width="4.34" height="4.33" fill="#1A89D6"/>
<rect x="459.82" y="163.79" width="4.34" height="4.33" fill="#217FC1"/>
<rect x="463.36" y="163.79" width="4.34" height="4.33" fill="#1E85CC"/>
<rect x="466.90" y="163.79" width="4.34" height="4.33" fill="#2F6185"/>
<rect x="470.44" y="163.79" width="4.34" height="4.33" fill="#2774AD"/>
<rect x="473.98" y="163.79" width="4.34" height="4.33" fill="#1E85CC"/>
<rect x="477.52" y="163.79" width="4.34" height="4.33" fill="#2A70A4"/>
<rect x="481.06" y="163.79" width="4.34" height="4.33" fill="#2F6185"/>
<rect x="484.60" y="163.79" width="4.34" height="4.33" fill="#227DBD"/>
<rect x="488.14" y="163.79" width="4.34" height="4.33" fill="#2A70A4"/>
<rect x="491.68" y="163.79" width="4.34" height="4.33" fill="#315977"/>
<rect x="495.22" y="163.79" width="4.34" height="4.33" fill="#315977"/>
<rect x="498.76" y="163.79" width="4.34" height="4.33" fill="#227DBD"/>
<rect x="502.30" y="163.79" width="4.34" height="4.33" fill="#227DBD"/>
<rect x="505.84" y="163.79" width="4.34" height="4.33" fill="#2F6185"/>
<rect x="509.38" y="163.79" width="4.34" height="4.33" fill="#315977"/>
<rect x="512.92" y="163.79" width="4.34" height="4.33" fill="#315977"/>
<rect x="516.46" y="163.79" width="4.34" height="4.33" fill="#315977"/>
<rect x="520.00" y="163.79" width="4.34" height="4.33" fill="#315977"/>
<rect x="523.54" y="163.79" width="4.34" height="4.33" fill="#315977"/>
<rect x="527.08" y="163.79" width="4.34" height="4.33" fill="#315977"/>
<rect x="530.62" y="163.79" width="4.34" height="4.33" fill="#315977"/>
<rect x="534.16" y="163.79" width="3.54" height="4.33" fill="#188CDA"/>
<rect x="374.86" y="167.32" width="4.34" height="3.53" fill="#71C3FF"/>
<rect x="378.40" y="167.32" width="4.34" height="3.53" fill="#4EB9FF"/>
<rect x="381.94" y="167.32" width="3.54" height="3.53" fill="#87CAFE"/>
<rect x="389.02" y="167.32" width="3.54" height="3.53" fill="#87CAFE"/>
<rect x="396.10" y="167.32" width="4.34" height="4.33" fill="#87CAFE"/>
<rect x="399.64" y="167.32" width="3.54" height="4.33" fill="#29B3FF"/>
<rect x="406.72" y="167.32" width="3.54" height="3.53" fill="#46B8FF"/>
<rect x="417.34" y="167.32" width="4.34" height="4.33" fill="#46B8FF"/>
<rect x="420.88" y="167.32" width="4.34" height="4.33" fill="#29B3FF"/>
<rect x="424.42" y="167.32" width="4.34" height="4.33" fill="#11A8FF"/>
<rect x="427.96" y="167.32" width="4.34" height="4.33" fill="#15B1FF"/>
<rect x="431.50" y="167.32" width="4.34" height="4.33" fill="#1592E4"/>
<rect x="435.04" y="167.32" width="4.34" height="4.33" fill="#1298ED"/>
<rect x="438.58" y="167.32" width="4.34" height="4.33" fill="#1A89D6"/>
<rect x="442.12" y="167.32" width="4.34" height="4.33" fill="#1298ED"/>
<rect x="445.66" y="167.32" width="4.34" height="4.33" fill="#0F9FFB"/>
<rect x="449.20" y="167.32" width="4.34" height="4.33" fill="#109AF2"/>
<rect x="452.74" y="167.32" width="4.34" height="4.33" fill="#188CDA"/>
<rect x="456.28" y="167.32" width="4.34" height="4.33" fill="#2677B3"/>
<rect x="459.82" y="167.32" width="4.34" height="4.33" fill="#1A89D6"/>
<rect x="463.36" y="167.32" width="4.34" height="4.33" fill="#11A8FF"/>
<rect x="466.90" y="167.32" width="4.34" height="4.33" fill="#1E85CC"/>
<rect x="470.44" y="167.32" width="4.34" height="4.33" fill="#315977"/>
<rect x="473.98" y="167.32" width="4.34" height="4.33" fill="#2A70A4"/>
<rect x="477.52" y="167.32" width="4.34" height="4.33" fill="#315977"/>
<rect x="481.06" y="167.32" width="4.34" height="4.33" fill="#188CDA"/>
<rect x="484.60" y="167.32" width="4.34" height="4.33" fill="#2A70A4"/>
<rect x="488.14" y="167.32" width="4.34" height="4.33" fill="#2A70A4"/>
<rect x="491.68" y="167.32" width="4.34" height="4.33" fill="#227DBD"/>
<rect x="495.22" y="167.32" width="4.34" height="4.33" fill="#2E6894"/>
<rect x="498.76" y="167.32" width="4.34" height="4.33" fill="#315977"/>
<rect x="502.30" y="167.32" width="4.34" height="4.33" fill="#2E6894"/>
<rect x="505.84" y="167.32" width="4.34" height="4.33" fill="#2A70A4"/>
<rect x="509.38" y="167.32" width="4.34" height="4.33" fill="#227DBD"/>
<rect x="512.92" y="167.32" width="4.34" height="4.33" fill="#188CDA"/>
<rect x="516.46" y="167.32" width="4.34" height="4.33" fill="#315977"/>
<rect x="520.00" y="167.32" width="4.34" height="4.33" fill="#2774AD"/>
<rect x="523.54" y="167.32" width="4.34" height="4.33" fill="#315977"/>
<rect x="527.08" y="167.32" width="4.34" height="4.33" fill="#2A70A4"/>
<rect x="530.62" y="167.32" width="4.34" height="4.33" fill="#109AF2"/>
<rect x="534.16" y="167.32" width="3.54" height="4.33" fill="#109AF2"/>
<rect x="385.48" y="170.85" width="3.54" height="3.53" fill="#87CAFE"/>
<rect x="396.10" y="170.85" width="4.34" height="3.53" fill="#71C3FF"/>
<rect x="399.64" y="170.85" width="4.34" height="4.33" fill="#64BFFF"/>
<rect x="403.18" y="170.85" width="3.54" height="4.33" fill="#6BC1FF"/>
<rect x="410.26" y="170.85" width="4.34" height="4.33" fill="#15B1FF"/>
<rect x="413.80" y="170.85" width="4.34" height="3.53" fill="#33B5FF"/>
<rect x="417.34" y="170.85" width="4.34" height="4.33" fill="#33B5FF"/>
<rect x="420.88" y="170.85" width="4.34" height="4.33" fill="#33B5FF"/>
<rect x="424.42" y="170.85" width="4.34" height="4.33" fill="#6BC1FF"/>
<rect x="427.96" y="170.85" width="4.34" height="4.33" fill="#0EA4FF"/>
<rect x="431.50" y="170.85" width="4.34" height="4.33" fill="#0EA4FF"/>
<rect x="435.04" y="170.85" width="4.34" height="4.33" fill="#29B3FF"/>
<rect x="438.58" y="170.85" width="4.34" height="4.33" fill="#109AF2"/>
<rect x="442.12" y="170.85" width="4.34" height="4.33" fill="#11ACFF"/>
<rect x="445.66" y="170.85" width="4.34" height="4.33" fill="#109AF2"/>
<rect x="449.20" y="170.85" width="4.34" height="4.33" fill="#217FC1"/>
<rect x="452.74" y="170.85" width="4.34" height="4.33" fill="#1A89D6"/>
<rect x="456.28" y="170.85" width="4.34" height="4.33" fill="#11A8FF"/>
<rect x="459.82" y="170.85" width="4.34" height="4.33" fill="#217FC1"/>
<rect x="463.36" y="170.85" width="4.34" height="4.33" fill="#2A70A4"/>
<rect x="466.90" y="170.85" width="4.34" height="4.33" fill="#1A89D6"/>
<rect x="470.44" y="170.85" width="4.34" height="4.33" fill="#1298ED"/>
<rect x="473.98" y="170.85" width="4.34" height="4.33" fill="#227DBD"/>
<rect x="477.52" y="170.85" width="4.34" height="4.33" fill="#2A70A4"/>
<rect x="481.06" y="170.85" width="4.34" height="4.33" fill="#2774AD"/>
<rect x="484.60" y="170.85" width="4.34" height="4.33" fill="#315977"/>
<rect x="488.14" y="170.85" width="4.34" height="4.33" fill="#2F6185"/>
<rect x="491.68" y="170.85" width="4.34" height="4.33" fill="#1394E9"/>
<rect x="495.22" y="170.85" width="4.34" height="4.33" fill="#2E6894"/>
<rect x="498.76" y="170.85" width="4.34" height="4.33" fill="#227DBD"/>
<rect x="502.30" y="170.85" width="4.34" height="4.33" fill="#315977"/>
<rect x="505.84" y="170.85" width="4.34" height="4.33" fill="#315977"/>
<rect x="509.38" y="170.85" width="4.34" height="4.33" fill="#315977"/>
<rect x="512.92" y="170.85" width="4.34" height="4.33" fill="#315977"/>
<rect x="516.46" y="170.85" width="4.34" height="4.33" fill="#315977"/>
<rect x="520.00" y="170.85" width="4.34" height="4.33" fill="#315977"/>
<rect x="523.54" y="170.85" width="4.34" height="4.33" fill="#315977"/>
<rect x="527.08" y="170.85" width="4.34" height="4.33" fill="#2A70A4"/>
<rect x="530.62" y="170.85" width="4.34" height="4.33" fill="#227DBD"/>
<rect x="534.16" y="170.85" width="3.54" height="4.33" fill="#0F9FFB"/>
<rect x="367.78" y="174.38" width="3.54" height="3.53" fill="#87CAFE"/>
<rect x="374.86" y="174.38" width="3.54" height="4.33" fill="#7CC6FF"/>
<rect x="389.02" y="174.38" width="4.34" height="3.53" fill="#87CAFE"/>
<rect x="392.56" y="174.38" width="3.54" height="4.33" fill="#64BFFF"/>
<rect x="399.64" y="174.38" width="4.34" height="4.33" fill="#6BC1FF"/>
<rect x="403.18" y="174.38" width="3.54" height="4.33" fill="#82C8FF"/>
<rect x="410.26" y="174.38" width="3.54" height="3.53" fill="#56BBFF"/>
<rect x="417.34" y="174.38" width="4.34" height="4.33" fill="#29B3FF"/>
<rect x="420.88" y="174.38" width="4.34" height="4.33" fill="#56BBFF"/>
<rect x="424.42" y="174.38" width="4.34" height="4.33" fill="#15B1FF"/>
<rect x="427.96" y="174.38" width="4.34" height="4.33" fill="#15B1FF"/>
<rect x="431.50" y="174.38" width="4.34" height="4.33" fill="#11ACFF"/>
<rect x="435.04" y="174.38" width="4.34" height="4.33" fill="#0F9FFB"/>
<rect x="438.58" y="174.38" width="4.34" height="4.33" fill="#29B3FF"/>
<rect x="442.12" y="174.38" width="4.34" height="4.33" fill="#0EA4FF"/>
<rect x="445.66" y="174.38" width="4.34" height="4.33" fill="#1298ED"/>
<rect x="449.20" y="174.38" width="4.34" height="4.33" fill="#227DBD"/>
<rect x="452.74" y="174.38" width="4.34" height="4.33" fill="#1A89D6"/>
<rect x="456.28" y="174.38" width="4.34" height="4.33" fill="#33B5FF"/>
<rect x="459.82" y="174.38" width="4.34" height="4.33" fill="#0EA4FF"/>
<rect x="463.36" y="174.38" width="4.34" height="4.33" fill="#1E85CC"/>
<rect x="466.90" y="174.38" width="4.34" height="4.33" fill="#11ACFF"/>
<rect x="470.44" y="174.38" width="4.34" height="4.33" fill="#1298ED"/>
<rect x="473.98" y="174.38" width="4.34" height="4.33" fill="#1E85CC"/>
<rect x="477.52" y="174.38" width="4.34" height="4.33" fill="#109AF2"/>
<rect x="481.06" y="174.38" width="4.34" height="4.33" fill="#11A8FF"/>
<rect x="484.60" y="174.38" width="4.34" height="4.33" fill="#2E668F"/>
<rect x="488.14" y="174.38" width="4.34" height="4.33" fill="#2774AD"/>
<rect x="491.68" y="174.38" width="4.34" height="4.33" fill="#2F6185"/>
<rect x="495.22" y="174.38" width="4.34" height="4.33" fill="#1E85CC"/>
<rect x="498.76" y="174.38" width="4.34" height="4.33" fill="#188CDA"/>
<rect x="502.30" y="174.38" width="4.34" height="4.33" fill="#2F6185"/>
<rect x="505.84" y="174.38" width="4.34" height="4.33" fill="#227DBD"/>
<rect x="509.38" y="174.38" width="4.34" height="4.33" fill="#2E6894"/>
<rect x="512.92" y="174.38" width="4.34" height="4.33" fill="#315977"/>
<rect x="516.46" y="174.38" width="4.34" height="4.33" fill="#315977"/>
<rect x="520.00" y="174.38" width="4.34" height="4.33" fill="#188CDA"/>
<rect x="523.54" y="174.38" width="4.34" height="4.33" fill="#315977"/>
<rect x="527.08" y="174.38" width="4.34" height="4.33" fill="#227DBD"/>
<rect x="530.62" y="174.38" width="4.34" height="4.33" fill="#33B5FF"/>
<rect x="534.16" y="174.38" width="3.54" height="4.33" fill="#11A8FF"/>
<rect x="374.86" y="177.91" width="4.34" height="3.53" fill="#87CAFE"/>
<rect x="378.40" y="177.91" width="3.54" height="3.53" fill="#7CC6FF"/>
<rect x="392.56" y="177.91" width="3.54" height="4.33" fill="#71C3FF"/>
<rect x="399.64" y="177.91" width="4.34" height="3.53" fill="#87CAFE"/>
<rect x="403.18" y="177.91" width="3.54" height="4.33" fill="#77C4FF"/>
<rect x="413.80" y="177.91" width="4.34" height="3.53" fill="#29B3FF"/>
<rect x="417.34" y="177.91" width="4.34" height="4.33" fill="#15B1FF"/>
<rect x="420.88" y="177.91" width="4.34" height="4.33" fill="#15B1FF"/>
<rect x="424.42" y="177.91" width="4.34" height="4.33" fill="#33B5FF"/>
<rect x="427.96" y="177.91" width="4.34" height="4.33" fill="#15B1FF"/>
<rect x="431.50" y="177.91" width="4.34" height="4.33" fill="#6BC1FF"/>
<rect x="435.04" y="177.91" width="4.34" height="4.33" fill="#0F9FFB"/>
<rect x="438.58" y="177.91" width="4.34" height="4.33" fill="#15B1FF"/>
<rect x="442.12" y="177.91" width="4.34" height="4.33" fill="#46B8FF"/>
<rect x="445.66" y="177.91" width="4.34" height="4.33" fill="#0F9FFB"/>
<rect x="449.20" y="177.91" width="4.34" height="4.33" fill="#0F9FFB"/>
<rect x="452.74" y="177.91" width="4.34" height="4.33" fill="#11A8FF"/>
<rect x="456.28" y="177.91" width="4.34" height="4.33" fill="#0EA4FF"/>
<rect x="459.82" y="177.91" width="4.34" height="4.33" fill="#1E85CC"/>
<rect x="463.36" y="177.91" width="4.34" height="4.33" fill="#11A8FF"/>
<rect x="466.90" y="177.91" width="4.34" height="4.33" fill="#11ACFF"/>
<rect x="470.44" y="177.91" width="4.34" height="4.33" fill="#29B3FF"/>
<rect x="473.98" y="177.91" width="4.34" height="4.33" fill="#15B1FF"/>
<rect x="477.52" y="177.91" width="4.34" height="4.33" fill="#188CDA"/>
<rect x="481.06" y="177.91" width="4.34" height="4.33" fill="#46B8FF"/>
<rect x="484.60" y="177.91" width="4.34" height="4.33" fill="#29B3FF"/>
<rect x="488.14" y="177.91" width="4.34" height="4.33" fill="#1A89D6"/>
<rect x="491.68" y="177.91" width="4.34" height="4.33" fill="#2A70A4"/>
<rect x="495.22" y="177.91" width="4.34" height="4.33" fill="#1592E4"/>
<rect x="498.76" y="177.91" width="4.34" height="4.33" fill="#1592E4"/>
<rect x="502.30" y="177.91" width="4.34" height="4.33" fill="#0EA4FF"/>
<rect x="505.84" y="177.91" width="4.34" height="4.33" fill="#1592E4"/>
<rect x="509.38" y="177.91" width="4.34" height="4.33" fill="#217FC1"/>
<rect x="512.92" y="177.91" width="4.34" height="4.33" fill="#2C6A99"/>
<rect x="516.46" y="177.91" width="4.34" height="4.33" fill="#109AF2"/>
<rect x="520.00" y="177.91" width="4.34" height="4.33" fill="#1A89D6"/>
<rect x="523.54" y="177.91" width="4.34" height="4.33" fill="#1592E4"/>
<rect x="527.08" y="177.91" width="4.34" height="4.33" fill="#1298ED"/>
<rect x="530.62" y="177.91" width="4.34" height="4.33" fill="#33B5FF"/>
<rect x="534.16" y="177.91" width="3.54" height="4.33" fill="#64BFFF"/>
<rect x="381.94" y="181.44" width="4.34" height="3.53" fill="#87CAFE"/>
<rect x="385.48" y="181.44" width="4.34" height="4.33" fill="#71C3FF"/>
<rect x="389.02" y="181.44" width="4.34" height="4.33" fill="#64BFFF"/>
<rect x="392.56" y="181.44" width="4.34" height="4.33" fill="#87CAFE"/>
<rect x="396.10" y="181.44" width="3.54" height="4.33" fill="#7CC6FF"/>
<rect x="403.18" y="181.44" width="4.34" height="3.53" fill="#7CC6FF"/>
<rect x="406.72" y="181.44" width="3.54" height="3.53" fill="#87CAFE"/>
<rect x="417.34" y="181.44" width="4.34" height="4.33" fill="#64BFFF"/>
<rect x="420.88" y="181.44" width="4.34" height="3.53" fill="#6BC1FF"/>
<rect x="424.42" y="181.44" width="4.34" height="4.33" fill="#64BFFF"/>
<rect x="427.96" y="181.44" width="4.34" height="4.33" fill="#6BC1FF"/>
<rect x="431.50" y="181.44" width="4.34" height="4.33" fill="#56BBFF"/>
<rect x="435.04" y="181.44" width="4.34" height="4.33" fill="#11ACFF"/>
<rect x="438.58" y="181.44" width="4.34" height="4.33" fill="#188CDA"/>
<rect x="442.12" y="181.44" width="4.34" height="4.33" fill="#188CDA"/>
<rect x="445.66" y="181.44" width="4.34" height="4.33" fill="#11ACFF"/>
<rect x="449.20" y="181.44" width="4.34" height="4.33" fill="#29B3FF"/>
<rect x="452.74" y="181.44" width="4.34" height="4.33" fill="#15B1FF"/>
<rect x="456.28" y="181.44" width="4.34" height="4.33" fill="#29B3FF"/>
<rect x="459.82" y="181.44" width="4.34" height="4.33" fill="#11A8FF"/>
<rect x="463.36" y="181.44" width="4.34" height="4.33" fill="#77C4FF"/>
<rect x="466.90" y="181.44" width="4.34" height="4.33" fill="#29B3FF"/>
<rect x="470.44" y="181.44" width="4.34" height="4.33" fill="#0EA4FF"/>
<rect x="473.98" y="181.44" width="4.34" height="4.33" fill="#15B1FF"/>
<rect x="477.52" y="181.44" width="4.34" height="4.33" fill="#29B3FF"/>
<rect x="481.06" y="181.44" width="4.34" height="4.33" fill="#1298ED"/>
<rect x="484.60" y="181.44" width="4.34" height="4.33" fill="#15B1FF"/>
<rect x="488.14" y="181.44" width="4.34" height="4.33" fill="#56BBFF"/>
<rect x="491.68" y="181.44" width="4.34" height="4.33" fill="#33B5FF"/>
<rect x="495.22" y="181.44" width="4.34" height="4.33" fill="#33B5FF"/>
<rect x="498.76" y="181.44" width="4.34" height="4.33" fill="#15B1FF"/>
<rect x="502.30" y="181.44" width="4.34" height="4.33" fill="#11ACFF"/>
<rect x="505.84" y="181.44" width="4.34" height="4.33" fill="#33B5FF"/>
<rect x="509.38" y="181.44" width="4.34" height="4.33" fill="#29B3FF"/>
<rect x="512.92" y="181.44" width="4.34" height="4.33" fill="#11ACFF"/>
<rect x="516.46" y="181.44" width="4.34" height="4.33" fill="#46B8FF"/>
<rect x="520.00" y="181.44" width="4.34" height="4.33" fill="#109AF2"/>
<rect x="523.54" y="181.44" width="4.34" height="4.33" fill="#1A89D6"/>
<rect x="527.08" y="181.44" width="4.34" height="4.33" fill="#11ACFF"/>
<rect x="530.62" y="181.44" width="4.34" height="4.33" fill="#46B8FF"/>
<rect x="534.16" y="181.44" width="3.54" height="4.33" fill="#6BC1FF"/>
<rect x="374.86" y="184.97" width="4.34" height="3.53" fill="#7CC6FF"/>
<rect x="378.40" y="184.97" width="3.54" height="3.53" fill="#64BFFF"/>
<rect x="385.48" y="184.97" width="4.34" height="3.53" fill="#87CAFE"/>
<rect x="389.02" y="184.97" width="4.34" height="4.33" fill="#7CC6FF"/>
<rect x="392.56" y="184.97" width="4.34" height="4.33" fill="#7CC6FF"/>
<rect x="396.10" y="184.97" width="4.34" height="4.33" fill="#7CC6FF"/>
<rect x="399.64" y="184.97" width="3.54" height="3.53" fill="#87CAFE"/>
<rect x="410.26" y="184.97" width="4.34" height="4.33" fill="#71C3FF"/>
<rect x="413.80" y="184.97" width="4.34" height="4.33" fill="#7CC6FF"/>
<rect x="417.34" y="184.97" width="3.54" height="4.33" fill="#7CC6FF"/>
<rect x="424.42" y="184.97" width="4.34" height="3.53" fill="#0F9FFB"/>
<rect x="427.96" y="184.97" width="4.34" height="4.33" fill="#29B3FF"/>
<rect x="431.50" y="184.97" width="4.34" height="4.33" fill="#15B1FF"/>
<rect x="435.04" y="184.97" width="4.34" height="4.33" fill="#56BBFF"/>
<rect x="438.58" y="184.97" width="4.34" height="4.33" fill="#56BBFF"/>
<rect x="442.12" y="184.97" width="4.34" height="4.33" fill="#33B5FF"/>
<rect x="445.66" y="184.97" width="4.34" height="4.33" fill="#29B3FF"/>
<rect x="449.20" y="184.97" width="4.34" height="4.33" fill="#64BFFF"/>
<rect x="452.74" y="184.97" width="4.34" height="4.33" fill="#15B1FF"/>
<rect x="456.28" y="184.97" width="4.34" height="3.53" fill="#56BBFF"/>
<rect x="459.82" y="184.97" width="4.34" height="4.33" fill="#87CAFE"/>
<rect x="463.36" y="184.97" width="4.34" height="4.33" fill="#64BFFF"/>
<rect x="466.90" y="184.97" width="4.34" height="4.33" fill="#46B8FF"/>
<rect x="470.44" y="184.97" width="4.34" height="4.33" fill="#6BC1FF"/>
<rect x="473.98" y="184.97" width="4.34" height="4.33" fill="#82C8FF"/>
<rect x="477.52" y="184.97" width="4.34" height="4.33" fill="#56BBFF"/>
<rect x="481.06" y="184.97" width="4.34" height="4.33" fill="#56BBFF"/>
<rect x="484.60" y="184.97" width="4.34" height="3.53" fill="#6BC1FF"/>
<rect x="488.14" y="184.97" width="4.34" height="4.33" fill="#64BFFF"/>
<rect x="491.68" y="184.97" width="4.34" height="4.33" fill="#6BC1FF"/>
<rect x="495.22" y="184.97" width="4.34" height="4.33" fill="#56BBFF"/>
<rect x="498.76" y="184.97" width="4.34" height="4.33" fill="#82C8FF"/>
<rect x="502.30" y="184.97" width="4.34" height="4.33" fill="#15B1FF"/>
<rect x="505.84" y="184.97" width="4.34" height="4.33" fill="#6BC1FF"/>
<rect x="509.38" y="184.97" width="4.34" height="4.33" fill="#87CAFE"/>
<rect x="512.92" y="184.97" width="4.34" height="4.33" fill="#6BC1FF"/>
<rect x="516.46" y="184.97" width="4.34" height="4.33" fill="#46B8FF"/>
<rect x="520.00" y="184.97" width="4.34" height="4.33" fill="#82C8FF"/>
<rect x="523.54" y="184.97" width="4.34" height="4.33" fill="#33B5FF"/>
<rect x="527.08" y="184.97" width="4.34" height="4.33" fill="#6BC1FF"/>
<rect x="530.62" y="184.97" width="4.34" height="4.33" fill="#56BBFF"/>
<rect x="534.16" y="184.97" width="3.54" height="4.33" fill="#87CAFE"/>
<rect x="381.94" y="188.50" width="3.54" height="4.33" fill="#87CAFE"/>
<rect x="389.02" y="188.50" width="4.34" height="4.33" fill="#71C3FF"/>
<rect x="392.56" y="188.50" width="4.34" height="4.33" fill="#7CC6FF"/>
<rect x="396.10" y="188.50" width="3.54" height="3.53" fill="#87CAFE"/>
<rect x="406.72" y="188.50" width="4.34" height="4.33" fill="#71C3FF"/>
<rect x="410.26" y="188.50" width="4.34" height="4.33" fill="#87CAFE"/>
<rect x="413.80" y="188.50" width="4.34" height="4.33" fill="#87CAFE"/>
<rect x="417.34" y="188.50" width="3.54" height="4.33" fill="#87CAFE"/>
<rect x="427.96" y="188.50" width="4.34" height="4.33" fill="#82C8FF"/>
<rect x="431.50" y="188.50" width="4.34" height="4.33" fill="#87CAFE"/>
<rect x="435.04" y="188.50" width="4.34" height="4.33" fill="#56BBFF"/>
<rect x="438.58" y="188.50" width="4.34" height="4.33" fill="#46B8FF"/>
<rect x="442.12" y="188.50" width="4.34" height="4.33" fill="#6BC1FF"/>
<rect x="445.66" y="188.50" width="4.34" height="4.33" fill="#64BFFF"/>
<rect x="449.20" y="188.50" width="4.34" height="4.33" fill="#77C4FF"/>
<rect x="452.74" y="188.50" width="3.54" height="4.33" fill="#7CC6FF"/>
<rect x="459.82" y="188.50" width="4.34" height="4.33" fill="#7CC6FF"/>
<rect x="463.36" y="188.50" width="4.34" height="4.33" fill="#64BFFF"/>
<rect x="466.90" y="188.50" width="4.34" height="4.33" fill="#71C3FF"/>
<rect x="470.44" y="188.50" width="4.34" height="4.33" fill="#7CC6FF"/>
<rect x="473.98" y="188.50" width="4.34" height="3.53" fill="#64BFFF"/>
<rect x="477.52" y="188.50" width="4.34" height="4.33" fill="#7CC6FF"/>
<rect x="481.06" y="188.50" width="3.54" height="4.33" fill="#87CAFE"/>
<rect x="488.14" y="188.50" width="4.34" height="3.53" fill="#64BFFF"/>
<rect x="491.68" y="188.50" width="4.34" height="4.33" fill="#6BC1FF"/>
<rect x="495.22" y="188.50" width="4.34" height="4.33" fill="#64BFFF"/>
<rect x="498.76" y="188.50" width="4.34" height="4.33" fill="#77C4FF"/>
<rect x="502.30" y="188.50" width="4.34" height="4.33" fill="#56BBFF"/>
<rect x="505.84" y="188.50" width="4.34" height="4.33" fill="#82C8FF"/>
<rect x="509.38" y="188.50" width="4.34" height="4.33" fill="#56BBFF"/>
<rect x="512.92" y="188.50" width="4.34" height="4.33" fill="#77C4FF"/>
<rect x="516.46" y="188.50" width="4.34" height="4.33" fill="#64BFFF"/>
<rect x="520.00" y="188.50" width="4.34" height="4.33" fill="#6BC1FF"/>
<rect x="523.54" y="188.50" width="4.34" height="4.33" fill="#56BBFF"/>
<rect x="527.08" y="188.50" width="4.34" height="4.33" fill="#77C4FF"/>
<rect x="530.62" y="188.50" width="4.34" height="4.33" fill="#64BFFF"/>
<rect x="534.16" y="188.50" width="3.54" height="4.33" fill="#71C3FF"/>
<rect x="381.94" y="192.03" width="3.54" height="4.33" fill="#71C3FF"/>
<rect x="389.02" y="192.03" width="4.34" height="3.53" fill="#87CAFE"/>
<rect x="392.56" y="192.03" width="3.54" height="4.33" fill="#7CC6FF"/>
<rect x="399.64" y="192.03" width="4.34" height="3.53" fill="#87CAFE"/>
<rect x="403.18" y="192.03" width="4.34" height="3.53" fill="#87CAFE"/>
<rect x="406.72" y="192.03" width="4.34" height="3.53" fill="#87CAFE"/>
<rect x="410.26" y="192.03" width="4.34" height="3.53" fill="#87CAFE"/>
<rect x="413.80" y="192.03" width="4.34" height="4.33" fill="#87CAFE"/>
<rect x="417.34" y="192.03" width="3.54" height="3.53" fill="#7CC6FF"/>
<rect x="424.42" y="192.03" width="4.34" height="4.33" fill="#7CC6FF"/>
<rect x="427.96" y="192.03" width="4.34" height="4.33" fill="#4EB9FF"/>
<rect x="431.50" y="192.03" width="4.34" height="4.33" fill="#7CC6FF"/>
<rect x="435.04" y="192.03" width="4.34" height="4.33" fill="#7CC6FF"/>
<rect x="438.58" y="192.03" width="4.34" height="4.33" fill="#64BFFF"/>
<rect x="442.12" y="192.03" width="4.34" height="4.33" fill="#64BFFF"/>
<rect x="445.66" y="192.03" width="4.34" height="4.33" fill="#71C3FF"/>
<rect x="449.20" y="192.03" width="4.34" height="3.53" fill="#64BFFF"/>
<rect x="452.74" y="192.03" width="3.54" height="4.33" fill="#64BFFF"/>
<rect x="459.82" y="192.03" width="4.34" height="3.53" fill="#7CC6FF"/>
<rect x="463.36" y="192.03" width="4.34" height="4.33" fill="#7CC6FF"/>
<rect x="466.90" y="192.03" width="4.34" height="4.33" fill="#71C3FF"/>
<rect x="470.44" y="192.03" width="3.54" height="4.33" fill="#71C3FF"/>
<rect x="477.52" y="192.03" width="4.34" height="4.33" fill="#7CC6FF"/>
<rect x="481.06" y="192.03" width="4.34" height="4.33" fill="#87CAFE"/>
<rect x="484.60" y="192.03" width="3.54" height="4.33" fill="#87CAFE"/>
<rect x="491.68" y="192.03" width="4.34" height="4.33" fill="#64BFFF"/>
<rect x="495.22" y="192.03" width="4.34" height="3.53" fill="#87CAFE"/>
<rect x="498.76" y="192.03" width="4.34" height="4.33" fill="#7CC6FF"/>
<rect x="502.30" y="192.03" width="4.34" height="4.33" fill="#64BFFF"/>
<rect x="505.84" y="192.03" width="4.34" height="4.33" fill="#87CAFE"/>
<rect x="509.38" y="192.03" width="4.34" height="4.33" fill="#64BFFF"/>
<rect x="512.92" y="192.03" width="4.34" height="4.33" fill="#71C3FF"/>
<rect x="516.46" y="192.03" width="4.34" height="4.33" fill="#7CC6FF"/>
<rect x="520.00" y="192.03" width="4.34" height="4.33" fill="#64BFFF"/>
<rect x="523.54" y="192.03" width="4.34" height="4.33" fill="#64BFFF"/>
<rect x="527.08" y="192.03" width="4.34" height="3.53" fill="#4EB9FF"/>
<rect x="530.62" y="192.03" width="4.34" height="4.33" fill="#87CAFE"/>
<rect x="534.16" y="192.03" width="3.54" height="4.33" fill="#87CAFE"/>
<rect x="381.94" y="195.56" width="3.54" height="3.53" fill="#87CAFE"/>
<rect x="392.56" y="195.56" width="3.54" height="3.53" fill="#7CC6FF"/>
<rect x="413.80" y="195.56" width="3.54" height="3.53" fill="#87CAFE"/>
<rect x="420.88" y="195.56" width="4.34" height="3.53" fill="#71C3FF"/>
<rect x="424.42" y="195.56" width="4.34" height="4.33" fill="#87CAFE"/>
<rect x="427.96" y="195.56" width="4.34" height="4.33" fill="#87CAFE"/>
<rect x="431.50" y="195.56" width="4.34" height="4.33" fill="#71C3FF"/>
<rect x="435.04" y="195.56" width="4.34" height="3.53" fill="#7CC6FF"/>
<rect x="438.58" y="195.56" width="4.34" height="3.53" fill="#87CAFE"/>
<rect x="442.12" y="195.56" width="4.34" height="4.33" fill="#87CAFE"/>
<rect x="445.66" y="195.56" width="3.54" height="3.53" fill="#7CC6FF"/>
<rect x="452.74" y="195.56" width="4.34" height="3.53" fill="#7CC6FF"/>
<rect x="456.28" y="195.56" width="3.54" height="3.53" fill="#71C3FF"/>
<rect x="463.36" y="195.56" width="4.34" height="3.53" fill="#87CAFE"/>
<rect x="466.90" y="195.56" width="4.34" height="4.33" fill="#87CAFE"/>
<rect x="470.44" y="195.56" width="4.34" height="3.53" fill="#7CC6FF"/>
<rect x="473.98" y="195.56" width="4.34" height="3.53" fill="#87CAFE"/>
<rect x="477.52" y="195.56" width="4.34" height="3.53" fill="#87CAFE"/>
<rect x="481.06" y="195.56" width="4.34" height="3.53" fill="#71C3FF"/>
<rect x="484.60" y="195.56" width="4.34" height="3.53" fill="#71C3FF"/>
<rect x="488.14" y="195.56" width="4.34" height="3.53" fill="#7CC6FF"/>
<rect x="491.68" y="195.56" width="3.54" height="3.53" fill="#7CC6FF"/>
<rect x="498.76" y="195.56" width="4.34" height="3.53" fill="#71C3FF"/>
<rect x="502.30" y="195.56" width="4.34" height="3.53" fill="#87CAFE"/>
<rect x="505.84" y="195.56" width="4.34" height="3.53" fill="#64BFFF"/>
<rect x="509.38" y="195.56" width="4.34" height="3.53" fill="#87CAFE"/>
<rect x="512.92" y="195.56" width="4.34" height="3.53" fill="#7CC6FF"/>
<rect x="516.46" y="195.56" width="4.34" height="3.53" fill="#7CC6FF"/>
<rect x="520.00" y="195.56" width="4.34" height="3.53" fill="#71C3FF"/>
<rect x="523.54" y="195.56" width="3.54" height="3.53" fill="#87CAFE"/>
<rect x="530.62" y="195.56" width="4.34" height="3.53" fill="#71C3FF"/>
<rect x="534.16" y="195.56" width="3.54" height="3.53" fill="#87CAFE"/>
<rect x="399.64" y="199.09" width="4.34" height="3.53" fill="#87CAFE"/>
<rect x="403.18" y="199.09" width="3.54" height="4.33" fill="#87CAFE"/>
<rect x="417.34" y="199.09" width="3.54" height="4.33" fill="#71C3FF"/>
<rect x="424.42" y="199.09" width="4.34" height="3.53" fill="#71C3FF"/>
<rect x="427.96" y="199.09" width="4.34" height="3.53" fill="#87CAFE"/>
<rect x="431.50" y="199.09" width="3.54" height="3.53" fill="#7CC6FF"/>
<rect x="442.12" y="199.09" width="3.54" height="3.53" fill="#87CAFE"/>
<rect x="449.20" y="199.09" width="3.54" height="3.53" fill="#87CAFE"/>
<rect x="466.90" y="199.09" width="3.54" height="3.53" fill="#87CAFE"/>
<rect x="403.18" y="202.62" width="3.54" height="4.33" fill="#7CC6FF"/>
<rect x="410.26" y="202.62" width="3.54" height="3.53" fill="#87CAFE"/>
<rect x="417.34" y="202.62" width="3.54" height="3.53" fill="#87CAFE"/>
<rect x="438.58" y="202.62" width="3.54" height="4.33" fill="#87CAFE"/>
<rect x="403.18" y="206.15" width="3.54" height="3.53" fill="#87CAFE"/>
<rect x="413.80" y="206.15" width="3.54" height="3.53" fill="#87CAFE"/>
<rect x="438.58" y="206.15" width="4.34" height="3.53" fill="#87CAFE"/>
<rect x="442.12" y="206.15" width="3.54" height="3.53" fill="#87CAFE"/>
<rect x="449.20" y="206.15" width="3.54" height="3.53" fill="#87CAFE"/>
<rect x="410.26" y="209.68" width="3.54" height="3.53" fill="#87CAFE"/>
<rect x="360.70" y="213.21" width="3.54" height="3.53" fill="#87CAFE"/>
<rect x="360.70" y="220.27" width="3.54" height="3.53" fill="#29B3FF"/>
<rect x="348.4" y="223.35" width="3.5" height="0.9" fill="#161616"/>
<text class="s9" text-anchor="end" x="345.6" y="227.50">0.0</text>
<rect x="360.25" y="232.7" width="0.9" height="3.4" fill="#161616"/>
<text class="s9" text-anchor="middle" x="360.70" y="247.4">0.0</text>
<rect x="348.4" y="188.05" width="3.5" height="0.9" fill="#161616"/>
<text class="s9" text-anchor="end" x="345.6" y="192.20">0.2</text>
<rect x="395.65" y="232.7" width="0.9" height="3.4" fill="#161616"/>
<text class="s9" text-anchor="middle" x="396.10" y="247.4">0.2</text>
<rect x="348.4" y="152.75" width="3.5" height="0.9" fill="#161616"/>
<text class="s9" text-anchor="end" x="345.6" y="156.90">0.4</text>
<rect x="431.05" y="232.7" width="0.9" height="3.4" fill="#161616"/>
<text class="s9" text-anchor="middle" x="431.50" y="247.4">0.4</text>
<rect x="348.4" y="117.45" width="3.5" height="0.9" fill="#161616"/>
<text class="s9" text-anchor="end" x="345.6" y="121.60">0.6</text>
<rect x="466.45" y="232.7" width="0.9" height="3.4" fill="#161616"/>
<text class="s9" text-anchor="middle" x="466.90" y="247.4">0.6</text>
<rect x="348.4" y="82.15" width="3.5" height="0.9" fill="#161616"/>
<text class="s9" text-anchor="end" x="345.6" y="86.30">0.8</text>
<rect x="501.85" y="232.7" width="0.9" height="3.4" fill="#161616"/>
<text class="s9" text-anchor="middle" x="502.30" y="247.4">0.8</text>
<rect x="348.4" y="46.85" width="3.5" height="0.9" fill="#161616"/>
<text class="s9" text-anchor="end" x="345.6" y="51.00">1.0</text>
<rect x="537.25" y="232.7" width="0.9" height="3.4" fill="#161616"/>
<text class="s9" text-anchor="middle" x="537.70" y="247.4">1.0</text>
<text class="s9" text-anchor="middle" x="449.4" y="258.8">width</text>
<text class="s9" text-anchor="middle" transform="translate(325.2,136.5) rotate(-90)">height</text>
<text class="cap" text-anchor="middle" x="430.8" y="311.6">(<tspan font-weight="bold">b</tspan>)</text>
</svg>
</body></html>
